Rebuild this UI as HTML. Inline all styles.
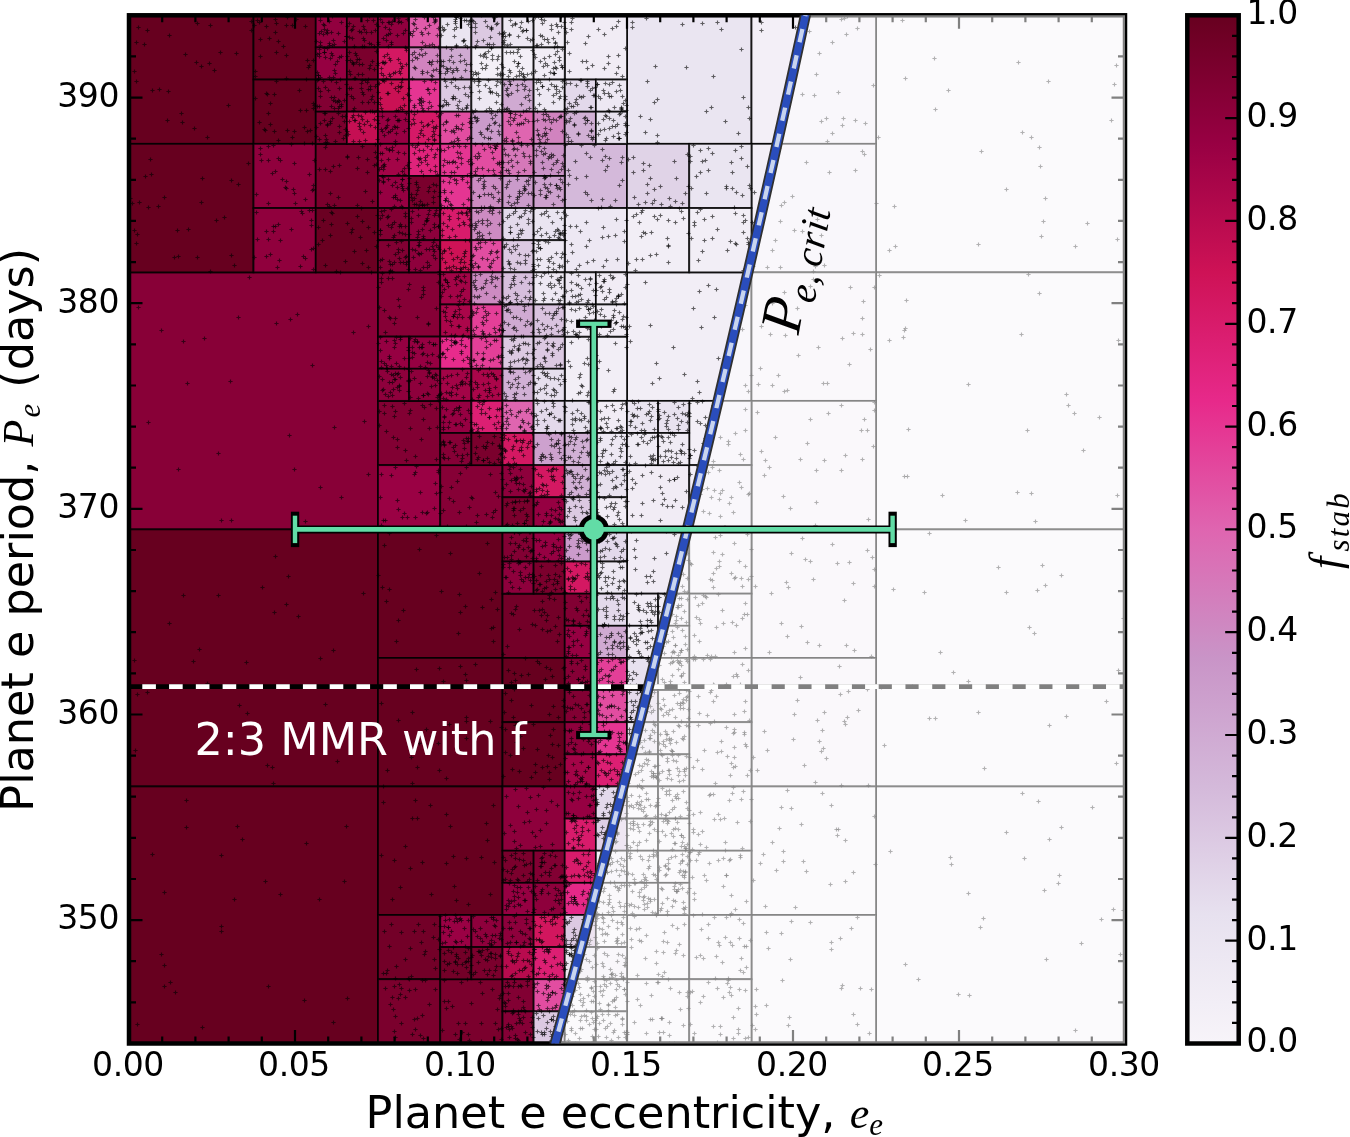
<!DOCTYPE html>
<html lang="en"><head><meta charset="utf-8"><title>Stability map</title>
<style>html,body{margin:0;padding:0;background:#fff}svg{display:block}text{font-family:"DejaVu Sans","Liberation Sans",sans-serif;fill:#000}.m{font-family:"Liberation Serif","DejaVu Serif",serif;font-style:italic}</style></head><body>
<svg width="1350" height="1137" viewBox="0 0 1350 1137">
<defs>
<clipPath id="ax"><rect x="129.0" y="15.3" width="996.0" height="1028.2"/></clipPath>
<marker id="pl" markerUnits="userSpaceOnUse" markerWidth="8" markerHeight="8" refX="3.5" refY="3.5" overflow="visible"><path d="M1.9 4H6.1M4 1.9V6.1" stroke="#000" stroke-width="1.15" stroke-opacity="0.6" fill="none"/></marker>
<linearGradient id="cb" x1="0" y1="0" x2="0" y2="1"><stop offset="0.0000" stop-color="#67001f"/><stop offset="0.1250" stop-color="#980043"/><stop offset="0.2500" stop-color="#ce1256"/><stop offset="0.3750" stop-color="#e7298a"/><stop offset="0.5000" stop-color="#df65b0"/><stop offset="0.6250" stop-color="#c994c7"/><stop offset="0.7500" stop-color="#d4b9da"/><stop offset="0.8750" stop-color="#e7e1ef"/><stop offset="1.0000" stop-color="#f7f4f9"/></linearGradient>
</defs>
<rect width="1350" height="1137" fill="#fff"/>
<g clip-path="url(#ax)">
<g stroke="#000" stroke-width="1.8" stroke-opacity="0.84">
<rect x="876.00" y="15.30" width="249.00" height="257.05" fill="#f7f4f9"/>
<rect x="129.00" y="272.35" width="249.00" height="257.05" fill="#880037"/>
<rect x="876.00" y="272.35" width="249.00" height="257.05" fill="#f7f4f9"/>
<rect x="129.00" y="529.40" width="249.00" height="257.05" fill="#67001f"/>
<rect x="876.00" y="529.40" width="249.00" height="257.05" fill="#f7f4f9"/>
<rect x="129.00" y="786.45" width="249.00" height="257.05" fill="#67001f"/>
<rect x="876.00" y="786.45" width="249.00" height="257.05" fill="#f7f4f9"/>
<rect x="129.00" y="15.30" width="124.50" height="128.53" fill="#67001f"/>
<rect x="129.00" y="143.83" width="124.50" height="128.53" fill="#67001f"/>
<rect x="627.00" y="15.30" width="124.50" height="128.53" fill="#eae5f1"/>
<rect x="751.50" y="15.30" width="124.50" height="128.53" fill="#f3eff7"/>
<rect x="751.50" y="143.83" width="124.50" height="128.53" fill="#f3eff7"/>
<rect x="627.00" y="272.35" width="124.50" height="128.53" fill="#f2eef6"/>
<rect x="751.50" y="272.35" width="124.50" height="128.53" fill="#f4f1f7"/>
<rect x="751.50" y="400.88" width="124.50" height="128.53" fill="#f4f1f7"/>
<rect x="378.00" y="529.40" width="124.50" height="128.53" fill="#67001f"/>
<rect x="378.00" y="657.92" width="124.50" height="128.53" fill="#67001f"/>
<rect x="751.50" y="529.40" width="124.50" height="128.53" fill="#f4f1f7"/>
<rect x="751.50" y="657.92" width="124.50" height="128.53" fill="#f4f1f7"/>
<rect x="378.00" y="786.45" width="124.50" height="128.53" fill="#67001f"/>
<rect x="751.50" y="786.45" width="124.50" height="128.53" fill="#f7f4f9"/>
<rect x="751.50" y="914.98" width="124.50" height="128.53" fill="#f7f4f9"/>
<rect x="253.50" y="15.30" width="62.25" height="64.26" fill="#67001f"/>
<rect x="253.50" y="79.56" width="62.25" height="64.26" fill="#67001f"/>
<rect x="253.50" y="143.83" width="62.25" height="64.26" fill="#90003d"/>
<rect x="315.75" y="143.83" width="62.25" height="64.26" fill="#7b002d"/>
<rect x="253.50" y="208.09" width="62.25" height="64.26" fill="#90003d"/>
<rect x="315.75" y="208.09" width="62.25" height="64.26" fill="#6b0022"/>
<rect x="564.75" y="15.30" width="62.25" height="64.26" fill="#f1ecf5"/>
<rect x="564.75" y="143.83" width="62.25" height="64.26" fill="#d4b9da"/>
<rect x="564.75" y="208.09" width="62.25" height="64.26" fill="#ede8f3"/>
<rect x="627.00" y="143.83" width="62.25" height="64.26" fill="#e0d3e7"/>
<rect x="689.25" y="143.83" width="62.25" height="64.26" fill="#eae5f1"/>
<rect x="627.00" y="208.09" width="62.25" height="64.26" fill="#f2eef6"/>
<rect x="689.25" y="208.09" width="62.25" height="64.26" fill="#f2eef6"/>
<rect x="378.00" y="272.35" width="62.25" height="64.26" fill="#860036"/>
<rect x="564.75" y="336.61" width="62.25" height="64.26" fill="#f2eef6"/>
<rect x="378.00" y="400.88" width="62.25" height="64.26" fill="#820033"/>
<rect x="378.00" y="465.14" width="62.25" height="64.26" fill="#9a0144"/>
<rect x="440.25" y="465.14" width="62.25" height="64.26" fill="#860036"/>
<rect x="689.25" y="400.88" width="62.25" height="64.26" fill="#f3eff7"/>
<rect x="627.00" y="465.14" width="62.25" height="64.26" fill="#f1ecf5"/>
<rect x="689.25" y="465.14" width="62.25" height="64.26" fill="#f3eff7"/>
<rect x="502.50" y="593.66" width="62.25" height="64.26" fill="#730028"/>
<rect x="502.50" y="657.92" width="62.25" height="64.26" fill="#67001f"/>
<rect x="502.50" y="722.19" width="62.25" height="64.26" fill="#67001f"/>
<rect x="627.00" y="529.40" width="62.25" height="64.26" fill="#f1ecf5"/>
<rect x="689.25" y="529.40" width="62.25" height="64.26" fill="#f4f1f7"/>
<rect x="689.25" y="593.66" width="62.25" height="64.26" fill="#f4f1f7"/>
<rect x="689.25" y="657.92" width="62.25" height="64.26" fill="#f4f1f7"/>
<rect x="689.25" y="722.19" width="62.25" height="64.26" fill="#f4f1f7"/>
<rect x="502.50" y="786.45" width="62.25" height="64.26" fill="#8e003c"/>
<rect x="378.00" y="914.98" width="62.25" height="64.26" fill="#730028"/>
<rect x="378.00" y="979.24" width="62.25" height="64.26" fill="#7b002d"/>
<rect x="440.25" y="979.24" width="62.25" height="64.26" fill="#7b002d"/>
<rect x="689.25" y="786.45" width="62.25" height="64.26" fill="#f7f4f9"/>
<rect x="689.25" y="850.71" width="62.25" height="64.26" fill="#f7f4f9"/>
<rect x="627.00" y="914.98" width="62.25" height="64.26" fill="#f7f4f9"/>
<rect x="689.25" y="914.98" width="62.25" height="64.26" fill="#f7f4f9"/>
<rect x="627.00" y="979.24" width="62.25" height="64.26" fill="#f7f4f9"/>
<rect x="689.25" y="979.24" width="62.25" height="64.26" fill="#f7f4f9"/>
<rect x="315.75" y="15.30" width="31.12" height="32.13" fill="#92003f"/>
<rect x="346.88" y="15.30" width="31.12" height="32.13" fill="#820033"/>
<rect x="315.75" y="47.43" width="31.12" height="32.13" fill="#960042"/>
<rect x="346.88" y="47.43" width="31.12" height="32.13" fill="#7b002d"/>
<rect x="315.75" y="79.56" width="31.12" height="32.13" fill="#820033"/>
<rect x="346.88" y="79.56" width="31.12" height="32.13" fill="#7f0030"/>
<rect x="315.75" y="111.69" width="31.12" height="32.13" fill="#7b002d"/>
<rect x="346.88" y="111.69" width="31.12" height="32.13" fill="#c50f53"/>
<rect x="378.00" y="15.30" width="31.12" height="32.13" fill="#92003f"/>
<rect x="409.12" y="15.30" width="31.12" height="32.13" fill="#e05baa"/>
<rect x="440.25" y="15.30" width="31.12" height="32.13" fill="#eae5f1"/>
<rect x="471.38" y="15.30" width="31.12" height="32.13" fill="#dcc9e2"/>
<rect x="502.50" y="15.30" width="31.12" height="32.13" fill="#ede8f3"/>
<rect x="533.62" y="15.30" width="31.12" height="32.13" fill="#f1ecf5"/>
<rect x="378.00" y="47.43" width="31.12" height="32.13" fill="#d41862"/>
<rect x="409.12" y="47.43" width="31.12" height="32.13" fill="#d183bf"/>
<rect x="440.25" y="47.43" width="31.12" height="32.13" fill="#d0aad2"/>
<rect x="471.38" y="47.43" width="31.12" height="32.13" fill="#f3eff7"/>
<rect x="502.50" y="47.43" width="31.12" height="32.13" fill="#f3eff7"/>
<rect x="533.62" y="47.43" width="31.12" height="32.13" fill="#f1ecf5"/>
<rect x="378.00" y="79.56" width="31.12" height="32.13" fill="#ca1154"/>
<rect x="409.12" y="79.56" width="31.12" height="32.13" fill="#e53592"/>
<rect x="440.25" y="79.56" width="31.12" height="32.13" fill="#dcc9e2"/>
<rect x="471.38" y="79.56" width="31.12" height="32.13" fill="#ede8f3"/>
<rect x="502.50" y="79.56" width="31.12" height="32.13" fill="#d0aad2"/>
<rect x="533.62" y="79.56" width="31.12" height="32.13" fill="#ede8f3"/>
<rect x="564.75" y="79.56" width="31.12" height="32.13" fill="#e3d9eb"/>
<rect x="595.88" y="79.56" width="31.12" height="32.13" fill="#ede8f3"/>
<rect x="378.00" y="111.69" width="31.12" height="32.13" fill="#980043"/>
<rect x="409.12" y="111.69" width="31.12" height="32.13" fill="#d61967"/>
<rect x="440.25" y="111.69" width="31.12" height="32.13" fill="#e24da1"/>
<rect x="471.38" y="111.69" width="31.12" height="32.13" fill="#cb9bcb"/>
<rect x="502.50" y="111.69" width="31.12" height="32.13" fill="#df65b0"/>
<rect x="533.62" y="111.69" width="31.12" height="32.13" fill="#d183bf"/>
<rect x="564.75" y="111.69" width="31.12" height="32.13" fill="#d1b0d5"/>
<rect x="595.88" y="111.69" width="31.12" height="32.13" fill="#e8e2ef"/>
<rect x="378.00" y="143.83" width="31.12" height="32.13" fill="#a30447"/>
<rect x="409.12" y="143.83" width="31.12" height="32.13" fill="#e0237b"/>
<rect x="440.25" y="143.83" width="31.12" height="32.13" fill="#e53592"/>
<rect x="471.38" y="143.83" width="31.12" height="32.13" fill="#e24da1"/>
<rect x="502.50" y="143.83" width="31.12" height="32.13" fill="#d678b9"/>
<rect x="533.62" y="143.83" width="31.12" height="32.13" fill="#ca92c6"/>
<rect x="378.00" y="175.96" width="31.12" height="32.13" fill="#960042"/>
<rect x="409.12" y="175.96" width="31.12" height="32.13" fill="#7b002d"/>
<rect x="440.25" y="175.96" width="31.12" height="32.13" fill="#e53592"/>
<rect x="471.38" y="175.96" width="31.12" height="32.13" fill="#cd8bc2"/>
<rect x="502.50" y="175.96" width="31.12" height="32.13" fill="#cb9bcb"/>
<rect x="533.62" y="175.96" width="31.12" height="32.13" fill="#cda1ce"/>
<rect x="378.00" y="208.09" width="31.12" height="32.13" fill="#820033"/>
<rect x="409.12" y="208.09" width="31.12" height="32.13" fill="#8e003c"/>
<rect x="440.25" y="208.09" width="31.12" height="32.13" fill="#d81b6b"/>
<rect x="471.38" y="208.09" width="31.12" height="32.13" fill="#cd8bc2"/>
<rect x="502.50" y="208.09" width="31.12" height="32.13" fill="#e3d9eb"/>
<rect x="533.62" y="208.09" width="31.12" height="32.13" fill="#eae5f1"/>
<rect x="378.00" y="240.22" width="31.12" height="32.13" fill="#820033"/>
<rect x="409.12" y="240.22" width="31.12" height="32.13" fill="#8e003c"/>
<rect x="440.25" y="240.22" width="31.12" height="32.13" fill="#ce1256"/>
<rect x="471.38" y="240.22" width="31.12" height="32.13" fill="#e24da1"/>
<rect x="502.50" y="240.22" width="31.12" height="32.13" fill="#dcc9e2"/>
<rect x="533.62" y="240.22" width="31.12" height="32.13" fill="#ede8f3"/>
<rect x="440.25" y="272.35" width="31.12" height="32.13" fill="#a30447"/>
<rect x="471.38" y="272.35" width="31.12" height="32.13" fill="#cd8bc2"/>
<rect x="502.50" y="272.35" width="31.12" height="32.13" fill="#d7bfdd"/>
<rect x="533.62" y="272.35" width="31.12" height="32.13" fill="#ede8f3"/>
<rect x="564.75" y="272.35" width="31.12" height="32.13" fill="#ede8f3"/>
<rect x="595.88" y="272.35" width="31.12" height="32.13" fill="#f1ecf5"/>
<rect x="440.25" y="304.48" width="31.12" height="32.13" fill="#ab064a"/>
<rect x="471.38" y="304.48" width="31.12" height="32.13" fill="#e43f98"/>
<rect x="502.50" y="304.48" width="31.12" height="32.13" fill="#d0aad2"/>
<rect x="533.62" y="304.48" width="31.12" height="32.13" fill="#d9c3df"/>
<rect x="564.75" y="304.48" width="31.12" height="32.13" fill="#f1ecf5"/>
<rect x="595.88" y="304.48" width="31.12" height="32.13" fill="#f1ecf5"/>
<rect x="378.00" y="336.61" width="31.12" height="32.13" fill="#960042"/>
<rect x="409.12" y="336.61" width="31.12" height="32.13" fill="#960042"/>
<rect x="440.25" y="336.61" width="31.12" height="32.13" fill="#e72b8c"/>
<rect x="471.38" y="336.61" width="31.12" height="32.13" fill="#e43f98"/>
<rect x="502.50" y="336.61" width="31.12" height="32.13" fill="#dcc9e2"/>
<rect x="533.62" y="336.61" width="31.12" height="32.13" fill="#dcc9e2"/>
<rect x="378.00" y="368.74" width="31.12" height="32.13" fill="#8e003c"/>
<rect x="409.12" y="368.74" width="31.12" height="32.13" fill="#8e003c"/>
<rect x="440.25" y="368.74" width="31.12" height="32.13" fill="#a30447"/>
<rect x="471.38" y="368.74" width="31.12" height="32.13" fill="#ab064a"/>
<rect x="502.50" y="368.74" width="31.12" height="32.13" fill="#d1b0d5"/>
<rect x="533.62" y="368.74" width="31.12" height="32.13" fill="#e6dfee"/>
<rect x="440.25" y="400.88" width="31.12" height="32.13" fill="#960042"/>
<rect x="471.38" y="400.88" width="31.12" height="32.13" fill="#dc1f73"/>
<rect x="502.50" y="400.88" width="31.12" height="32.13" fill="#df65b0"/>
<rect x="533.62" y="400.88" width="31.12" height="32.13" fill="#e3d9eb"/>
<rect x="564.75" y="400.88" width="31.12" height="32.13" fill="#e8e2ef"/>
<rect x="595.88" y="400.88" width="31.12" height="32.13" fill="#f1ecf5"/>
<rect x="440.25" y="433.01" width="31.12" height="32.13" fill="#860036"/>
<rect x="471.38" y="433.01" width="31.12" height="32.13" fill="#7b002d"/>
<rect x="502.50" y="433.01" width="31.12" height="32.13" fill="#d41862"/>
<rect x="533.62" y="433.01" width="31.12" height="32.13" fill="#cda1ce"/>
<rect x="564.75" y="433.01" width="31.12" height="32.13" fill="#d1b0d5"/>
<rect x="595.88" y="433.01" width="31.12" height="32.13" fill="#ede8f3"/>
<rect x="502.50" y="465.14" width="31.12" height="32.13" fill="#8e003c"/>
<rect x="533.62" y="465.14" width="31.12" height="32.13" fill="#d41862"/>
<rect x="564.75" y="465.14" width="31.12" height="32.13" fill="#d1b0d5"/>
<rect x="595.88" y="465.14" width="31.12" height="32.13" fill="#e8e2ef"/>
<rect x="502.50" y="497.27" width="31.12" height="32.13" fill="#7b002d"/>
<rect x="533.62" y="497.27" width="31.12" height="32.13" fill="#960042"/>
<rect x="564.75" y="497.27" width="31.12" height="32.13" fill="#dcc9e2"/>
<rect x="595.88" y="497.27" width="31.12" height="32.13" fill="#f1ecf5"/>
<rect x="627.00" y="400.88" width="31.12" height="32.13" fill="#eae5f1"/>
<rect x="658.12" y="400.88" width="31.12" height="32.13" fill="#e8e2ef"/>
<rect x="627.00" y="433.01" width="31.12" height="32.13" fill="#efebf4"/>
<rect x="658.12" y="433.01" width="31.12" height="32.13" fill="#efebf4"/>
<rect x="502.50" y="529.40" width="31.12" height="32.13" fill="#820033"/>
<rect x="533.62" y="529.40" width="31.12" height="32.13" fill="#960042"/>
<rect x="564.75" y="529.40" width="31.12" height="32.13" fill="#cb9bcb"/>
<rect x="595.88" y="529.40" width="31.12" height="32.13" fill="#e3d9eb"/>
<rect x="502.50" y="561.53" width="31.12" height="32.13" fill="#8e003c"/>
<rect x="533.62" y="561.53" width="31.12" height="32.13" fill="#7b002d"/>
<rect x="564.75" y="561.53" width="31.12" height="32.13" fill="#d41862"/>
<rect x="595.88" y="561.53" width="31.12" height="32.13" fill="#ede8f3"/>
<rect x="564.75" y="593.66" width="31.12" height="32.13" fill="#820033"/>
<rect x="595.88" y="593.66" width="31.12" height="32.13" fill="#e3d9eb"/>
<rect x="564.75" y="625.79" width="31.12" height="32.13" fill="#960042"/>
<rect x="595.88" y="625.79" width="31.12" height="32.13" fill="#d0aad2"/>
<rect x="564.75" y="657.92" width="31.12" height="32.13" fill="#860036"/>
<rect x="595.88" y="657.92" width="31.12" height="32.13" fill="#e43f98"/>
<rect x="564.75" y="690.06" width="31.12" height="32.13" fill="#820033"/>
<rect x="595.88" y="690.06" width="31.12" height="32.13" fill="#e24da1"/>
<rect x="564.75" y="722.19" width="31.12" height="32.13" fill="#8e003c"/>
<rect x="595.88" y="722.19" width="31.12" height="32.13" fill="#e53592"/>
<rect x="564.75" y="754.32" width="31.12" height="32.13" fill="#a30447"/>
<rect x="595.88" y="754.32" width="31.12" height="32.13" fill="#dc1f73"/>
<rect x="627.00" y="593.66" width="31.12" height="32.13" fill="#f1ecf5"/>
<rect x="658.12" y="593.66" width="31.12" height="32.13" fill="#f3eff7"/>
<rect x="627.00" y="625.79" width="31.12" height="32.13" fill="#f1ecf5"/>
<rect x="658.12" y="625.79" width="31.12" height="32.13" fill="#f3eff7"/>
<rect x="627.00" y="657.92" width="31.12" height="32.13" fill="#e8e2ef"/>
<rect x="658.12" y="657.92" width="31.12" height="32.13" fill="#f4f1f7"/>
<rect x="627.00" y="690.06" width="31.12" height="32.13" fill="#e3d9eb"/>
<rect x="658.12" y="690.06" width="31.12" height="32.13" fill="#f4f1f7"/>
<rect x="627.00" y="722.19" width="31.12" height="32.13" fill="#eae5f1"/>
<rect x="658.12" y="722.19" width="31.12" height="32.13" fill="#f4f1f7"/>
<rect x="627.00" y="754.32" width="31.12" height="32.13" fill="#f4f1f7"/>
<rect x="658.12" y="754.32" width="31.12" height="32.13" fill="#f4f1f7"/>
<rect x="564.75" y="786.45" width="31.12" height="32.13" fill="#960042"/>
<rect x="595.88" y="786.45" width="31.12" height="32.13" fill="#e3d9eb"/>
<rect x="564.75" y="818.58" width="31.12" height="32.13" fill="#d81b6b"/>
<rect x="595.88" y="818.58" width="31.12" height="32.13" fill="#dfcfe6"/>
<rect x="502.50" y="850.71" width="31.12" height="32.13" fill="#7b002d"/>
<rect x="533.62" y="850.71" width="31.12" height="32.13" fill="#820033"/>
<rect x="564.75" y="850.71" width="31.12" height="32.13" fill="#d81b6b"/>
<rect x="595.88" y="850.71" width="31.12" height="32.13" fill="#f3eff7"/>
<rect x="502.50" y="882.84" width="31.12" height="32.13" fill="#960042"/>
<rect x="533.62" y="882.84" width="31.12" height="32.13" fill="#8e003c"/>
<rect x="564.75" y="882.84" width="31.12" height="32.13" fill="#e62888"/>
<rect x="595.88" y="882.84" width="31.12" height="32.13" fill="#f4f1f7"/>
<rect x="440.25" y="914.98" width="31.12" height="32.13" fill="#9a0144"/>
<rect x="471.38" y="914.98" width="31.12" height="32.13" fill="#8e003c"/>
<rect x="502.50" y="914.98" width="31.12" height="32.13" fill="#8e003c"/>
<rect x="533.62" y="914.98" width="31.12" height="32.13" fill="#d2165e"/>
<rect x="564.75" y="914.98" width="31.12" height="32.13" fill="#dcc9e2"/>
<rect x="595.88" y="914.98" width="31.12" height="32.13" fill="#f7f4f9"/>
<rect x="440.25" y="947.11" width="31.12" height="32.13" fill="#730028"/>
<rect x="471.38" y="947.11" width="31.12" height="32.13" fill="#7b002d"/>
<rect x="502.50" y="947.11" width="31.12" height="32.13" fill="#b80b4e"/>
<rect x="533.62" y="947.11" width="31.12" height="32.13" fill="#dc1f73"/>
<rect x="564.75" y="947.11" width="31.12" height="32.13" fill="#ede8f3"/>
<rect x="595.88" y="947.11" width="31.12" height="32.13" fill="#f2eef6"/>
<rect x="502.50" y="979.24" width="31.12" height="32.13" fill="#820033"/>
<rect x="533.62" y="979.24" width="31.12" height="32.13" fill="#e24da1"/>
<rect x="564.75" y="979.24" width="31.12" height="32.13" fill="#f7f4f9"/>
<rect x="595.88" y="979.24" width="31.12" height="32.13" fill="#f7f4f9"/>
<rect x="502.50" y="1011.37" width="31.12" height="32.13" fill="#860036"/>
<rect x="533.62" y="1011.37" width="31.12" height="32.13" fill="#dcc9e2"/>
<rect x="564.75" y="1011.37" width="31.12" height="32.13" fill="#f7f4f9"/>
<rect x="595.88" y="1011.37" width="31.12" height="32.13" fill="#f7f4f9"/>
<rect x="627.00" y="786.45" width="31.12" height="32.13" fill="#f7f4f9"/>
<rect x="658.12" y="786.45" width="31.12" height="32.13" fill="#f7f4f9"/>
<rect x="627.00" y="818.58" width="31.12" height="32.13" fill="#f7f4f9"/>
<rect x="658.12" y="818.58" width="31.12" height="32.13" fill="#f7f4f9"/>
<rect x="627.00" y="850.71" width="31.12" height="32.13" fill="#f7f4f9"/>
<rect x="658.12" y="850.71" width="31.12" height="32.13" fill="#f7f4f9"/>
<rect x="627.00" y="882.84" width="31.12" height="32.13" fill="#f7f4f9"/>
<rect x="658.12" y="882.84" width="31.12" height="32.13" fill="#f7f4f9"/>
</g>
<polyline fill="none" stroke="none" marker-start="url(#pl)" marker-mid="url(#pl)" marker-end="url(#pl)" points="169,35 210,25 196,62 136,81 134,71 138,27 182,122 144,44 207,137 201,66 251,21 236,53 147,30 167,120 152,90 209,63 197,23 136,42 214,70 168,91 185,54 228,105 159,89 194,128 220,52 251,30 181,113 148,207 134,230 224,217 238,184 216,220 201,202 234,265 188,229 137,234 210,271 231,180 177,230 132,203 150,159 136,243 145,176 178,256 139,202 197,257 231,255 164,197 174,257 248,163 151,174 158,206 202,178 130,198 276,52 313,60 286,55 296,19 309,65 308,67 278,41 260,56 257,20 266,26 275,19 254,25 260,39 255,71 292,25 269,38 276,23 306,79 283,46 259,22 275,32 305,26 255,76 286,25 287,17 286,78 307,60 270,103 264,129 287,130 274,94 304,143 307,131 304,127 268,113 276,81 255,98 270,124 313,108 312,143 313,103 267,94 266,93 292,137 306,110 294,131 259,122 310,130 300,110 265,130 274,131 314,105 278,140 299,90 320,20 344,41 320,42 346,36 327,33 320,16 346,36 332,45 329,43 341,22 324,25 323,34 324,29 320,45 327,30 334,44 329,45 331,32 332,16 329,21 316,41 321,31 338,33 326,32 333,40 319,33 323,24 371,32 364,40 375,30 366,32 363,38 361,32 362,46 369,43 376,24 364,46 373,20 351,30 349,23 349,37 371,44 352,38 367,20 374,46 354,46 359,31 378,42 352,29 363,26 353,26 369,16 364,29 347,26 335,64 318,79 340,79 319,56 317,72 324,52 329,77 341,56 320,77 334,70 319,49 337,61 318,78 335,73 318,75 318,75 330,58 333,77 324,52 332,55 319,53 317,54 325,57 339,57 331,53 327,48 324,48 370,65 353,63 376,51 372,61 362,74 359,64 368,79 358,74 369,68 359,59 349,52 349,71 355,53 350,74 374,69 356,55 356,62 352,62 355,78 377,65 354,78 357,59 347,60 362,64 353,64 347,56 350,60 317,80 325,87 334,97 339,101 338,108 328,90 346,84 338,100 317,106 344,100 339,106 320,96 331,106 341,106 334,108 337,102 323,81 320,91 319,106 333,100 335,101 331,80 341,104 331,97 336,82 339,88 318,88 370,86 370,111 362,92 362,102 371,99 367,82 351,88 370,89 365,80 349,88 368,102 368,89 363,94 361,83 375,86 377,110 347,94 372,111 361,88 353,110 353,98 351,96 377,84 372,96 374,102 354,108 362,80 316,127 330,121 320,123 326,139 316,136 342,116 345,135 344,121 327,124 347,131 327,125 324,113 319,139 325,142 324,120 332,118 327,142 343,138 335,141 345,129 338,113 339,126 339,132 325,113 345,116 330,123 325,135 377,120 367,121 364,124 352,117 353,141 362,119 375,144 361,116 353,115 358,115 354,120 365,140 370,125 360,129 359,123 349,121 377,116 363,132 374,119 355,120 359,126 377,139 374,112 348,134 375,127 365,112 359,141 305,199 314,160 260,154 286,188 312,190 294,193 282,179 256,194 268,203 294,163 261,160 293,189 260,148 286,181 278,158 291,144 272,173 313,185 309,174 268,160 313,189 273,145 285,187 280,160 295,203 268,146 275,171 358,157 365,191 347,157 376,164 367,159 330,193 334,205 347,156 330,171 357,205 325,169 329,206 325,147 319,169 372,201 361,208 374,165 327,204 362,146 357,168 339,165 326,144 333,166 375,152 376,157 338,197 367,172 257,239 277,267 266,231 309,210 279,260 301,211 256,212 311,225 300,266 275,226 313,248 270,254 273,226 254,257 311,249 312,210 268,239 313,269 278,224 280,240 311,220 303,256 305,258 291,229 273,231 302,213 266,256 331,212 318,244 336,271 371,272 332,213 322,240 360,237 330,235 354,251 362,263 357,216 368,227 351,232 362,221 331,224 325,265 352,229 340,272 347,223 366,250 377,215 345,261 368,267 318,227 323,220 376,246 374,232 405,30 386,40 407,19 397,35 385,27 382,22 386,35 398,22 378,26 399,21 388,22 403,33 380,19 390,33 398,18 383,38 391,24 388,46 388,34 389,29 405,47 389,22 401,22 378,44 391,42 391,44 392,21 410,33 429,45 412,35 421,32 414,24 425,45 413,31 434,46 415,19 438,47 424,17 438,28 437,35 435,20 434,22 422,42 435,21 416,28 425,28 413,23 432,44 410,33 433,17 435,19 428,33 429,25 422,34 454,36 454,29 441,35 455,23 464,40 455,21 455,19 444,29 443,30 456,17 460,18 463,40 456,17 456,27 470,20 467,47 463,41 446,47 456,46 469,21 465,45 442,27 464,20 468,24 466,20 456,45 447,24 487,26 473,21 476,45 493,44 477,41 475,32 491,27 499,33 489,44 475,47 491,28 496,24 502,34 483,40 485,21 495,17 497,23 491,47 490,37 481,15 472,20 491,29 487,44 475,23 492,16 471,27 475,27 509,34 521,22 522,31 507,45 510,20 505,36 530,40 515,24 503,36 520,27 523,30 532,39 510,44 504,32 515,23 504,40 503,33 532,20 509,35 518,36 528,21 512,25 504,44 527,38 503,42 526,30 526,30 541,19 541,17 544,39 555,42 556,24 551,29 558,32 542,36 564,22 561,16 542,23 557,46 557,26 561,26 541,44 553,38 554,47 548,42 555,43 547,39 551,25 540,35 536,45 538,16 537,45 544,20 535,17 608,56 608,63 569,53 587,68 616,73 569,71 622,76 571,29 572,18 618,67 604,68 604,34 571,22 612,28 585,43 566,32 582,61 588,36 625,48 618,55 567,42 592,65 586,61 598,29 618,21 616,26 565,28 402,79 378,63 393,73 384,63 389,74 386,78 387,54 400,63 381,68 381,73 400,73 398,59 390,60 406,50 406,48 384,56 406,64 390,76 385,62 395,72 401,68 389,58 383,75 399,71 383,62 402,66 382,62 437,55 415,57 431,75 414,52 417,58 425,53 419,54 439,71 412,78 412,60 440,73 432,61 415,68 412,54 421,49 422,73 431,64 429,62 414,67 422,71 437,61 427,72 422,55 432,76 433,70 436,69 429,62 450,68 443,61 465,70 460,55 453,62 460,61 461,77 446,68 464,60 455,79 441,65 445,73 470,64 443,66 457,70 456,68 466,64 453,78 447,69 452,72 444,79 451,49 449,60 441,61 453,70 451,56 447,71 501,64 478,73 484,54 475,72 497,68 486,65 478,78 482,68 497,74 486,57 488,51 497,59 498,56 483,56 485,53 471,71 480,55 481,63 485,68 492,59 500,75 473,74 500,73 476,74 491,48 472,78 492,55 506,52 510,72 513,52 531,73 508,76 521,73 523,76 527,74 509,70 519,71 516,76 520,56 510,52 518,49 517,52 518,63 519,75 503,74 517,66 523,74 514,61 532,50 522,68 503,67 524,77 513,79 518,63 562,49 556,68 544,75 545,63 550,72 540,61 547,65 559,57 559,60 549,56 549,79 554,73 544,58 543,66 553,73 535,71 561,65 535,57 534,54 562,67 554,73 562,67 553,68 555,67 555,54 554,62 557,51 384,81 402,109 398,91 404,105 395,88 387,93 388,93 398,110 380,98 379,83 403,98 407,94 378,92 396,110 409,95 391,83 398,86 383,80 378,102 382,111 381,108 382,80 400,87 401,86 380,104 400,107 401,82 429,102 423,110 417,111 431,80 410,100 435,82 419,103 414,107 424,81 421,98 423,101 414,105 420,100 429,93 421,105 439,105 427,89 411,111 431,106 419,99 440,106 428,89 422,108 421,102 428,108 434,89 409,88 453,98 466,108 442,106 466,107 458,88 467,105 462,109 451,82 457,105 446,104 469,87 459,101 455,86 448,104 465,94 443,105 464,87 458,108 468,96 455,98 446,86 446,102 452,98 453,96 445,81 471,92 444,100 496,85 490,91 488,80 472,111 498,95 489,88 496,93 501,104 497,111 479,81 478,85 474,81 489,108 486,110 500,82 490,92 475,110 479,98 491,110 492,92 485,85 501,111 478,81 479,91 499,109 497,81 496,102 523,111 504,84 526,110 524,89 521,104 506,90 510,84 517,85 510,84 524,80 525,86 504,109 509,110 529,108 507,94 506,109 529,100 517,90 528,95 522,84 509,81 525,97 507,108 511,93 507,88 529,90 508,95 544,109 537,111 535,108 554,86 548,89 542,86 545,111 565,109 537,89 562,81 556,89 564,80 559,91 538,80 560,96 539,94 562,87 551,84 539,104 556,86 536,82 553,95 542,86 553,102 559,98 540,82 556,93 587,81 590,90 591,107 580,80 593,95 592,88 571,106 576,85 576,99 565,96 579,96 569,103 590,107 575,102 577,104 567,108 594,95 581,97 581,80 595,87 570,83 573,106 566,83 587,86 565,99 583,96 587,83 623,103 597,84 611,96 605,83 609,84 614,107 600,98 619,85 622,110 608,93 622,96 608,110 620,90 603,90 609,111 621,109 621,107 598,96 626,110 604,93 616,91 612,82 609,96 597,84 626,105 625,100 621,108 406,113 398,120 399,120 395,141 397,120 394,126 408,121 388,132 382,131 408,128 386,127 395,116 382,116 387,125 387,120 381,129 404,131 396,133 384,135 392,129 397,127 388,119 385,128 390,131 378,123 405,119 395,127 418,143 418,137 414,114 436,126 411,124 423,135 413,119 439,135 414,123 420,133 428,139 435,128 432,136 433,127 434,134 438,116 436,112 433,131 425,143 427,125 434,140 428,124 423,126 432,121 421,130 421,122 434,139 456,126 446,121 445,130 458,115 469,122 467,139 470,118 454,141 441,113 458,128 469,137 457,144 456,128 462,124 451,131 451,142 461,129 443,124 453,130 458,140 470,127 454,132 471,123 457,138 446,122 471,138 456,115 499,134 497,144 499,125 476,121 487,128 477,118 491,131 482,144 491,113 484,137 481,134 471,121 498,131 492,118 487,129 480,132 488,144 489,125 475,117 495,115 474,117 488,138 490,138 473,112 495,122 494,123 477,120 506,141 521,123 517,124 504,140 521,143 516,132 510,113 531,139 512,141 528,121 521,143 518,142 510,124 525,119 512,140 518,137 510,117 514,118 533,121 520,115 519,124 515,114 506,138 513,120 508,121 510,113 523,123 538,134 537,120 560,116 547,139 559,117 545,135 545,142 540,142 549,119 548,116 556,120 562,131 545,120 553,119 561,116 550,129 542,136 546,133 551,122 546,114 539,139 544,133 537,130 545,128 543,114 543,119 538,135 574,125 593,137 592,139 569,121 566,134 585,123 578,133 587,120 591,123 584,118 568,141 588,135 566,113 570,118 574,124 566,122 585,117 591,130 587,120 578,134 576,112 591,137 574,113 591,131 566,120 568,137 571,141 619,114 617,124 619,138 605,115 625,125 625,134 619,138 615,126 598,134 609,128 625,116 620,113 618,138 604,129 626,132 613,120 598,123 609,118 606,116 618,133 603,119 612,126 625,123 605,140 600,130 606,138 613,136 383,165 397,159 402,171 382,153 389,150 380,153 384,166 392,147 388,159 389,149 380,144 409,168 381,167 409,162 381,160 392,150 395,144 407,165 398,174 398,152 386,148 379,169 404,153 384,164 404,174 383,169 404,168 419,150 435,154 421,162 421,171 417,145 427,164 435,166 437,174 425,160 414,153 427,146 431,149 423,175 412,145 423,150 432,144 435,171 434,157 418,165 425,157 420,158 430,170 437,149 418,158 427,155 415,147 419,159 470,173 467,175 470,164 465,146 461,163 449,162 470,159 460,153 451,172 441,150 461,158 443,165 452,162 453,161 458,157 444,150 468,161 444,172 448,147 457,152 455,162 447,162 444,160 459,146 453,146 454,172 457,167 495,148 502,167 475,171 484,149 501,162 495,148 496,146 479,156 472,163 478,153 493,158 499,164 499,162 500,172 477,168 482,168 493,170 475,156 494,174 494,145 490,147 488,170 475,174 492,152 477,158 497,163 475,144 506,170 508,162 512,166 514,148 530,161 524,170 532,144 513,149 518,172 527,145 508,170 524,156 517,149 529,156 530,163 505,154 509,173 521,145 508,155 517,162 515,155 503,162 513,144 517,176 504,149 523,153 511,160 542,162 550,175 565,145 551,169 561,169 553,164 545,153 558,172 563,166 543,168 557,160 553,155 551,157 536,155 544,176 549,156 541,151 544,148 534,172 548,158 551,154 539,146 543,154 556,162 563,155 562,163 536,150 601,207 587,194 591,200 569,175 621,162 581,145 575,161 609,158 590,157 602,199 605,156 610,206 602,149 615,200 586,153 576,178 619,185 622,157 585,192 605,170 607,166 568,170 568,184 586,176 602,160 594,145 622,180 409,178 397,199 388,179 383,181 402,179 403,190 395,195 395,197 397,187 401,184 400,200 402,186 402,207 392,185 394,206 382,176 393,197 402,188 409,183 402,179 379,180 380,192 395,182 407,188 383,182 401,206 383,177 433,184 440,192 429,187 434,191 419,205 412,200 411,197 422,204 411,194 422,205 439,196 416,184 417,190 416,182 433,197 418,208 416,194 414,204 436,185 433,202 418,187 424,205 414,198 428,191 427,204 416,204 420,201 467,182 467,208 450,177 444,207 441,205 445,200 443,181 462,179 451,205 463,204 471,177 448,201 462,177 456,183 454,179 441,208 450,204 444,192 444,190 446,198 445,200 456,180 451,192 469,187 447,207 468,199 449,182 480,178 473,192 484,194 483,176 493,197 488,194 493,208 499,199 484,186 484,207 483,188 484,181 502,176 490,206 479,196 483,184 478,180 498,201 500,178 493,186 491,194 481,207 471,200 498,192 490,208 479,196 495,188 525,189 519,196 524,186 522,193 509,196 511,205 517,199 519,191 509,181 531,193 519,193 528,184 508,202 517,197 528,205 530,177 514,203 528,180 507,184 506,187 528,193 517,179 515,208 524,190 517,202 526,181 524,188 550,184 545,187 545,177 540,194 535,182 556,185 544,184 560,179 553,204 540,190 558,196 545,177 547,188 556,185 546,197 559,187 546,195 562,182 564,199 545,197 544,178 557,188 550,192 562,200 534,195 548,191 560,189 393,237 392,224 394,235 399,232 391,209 399,226 402,233 382,215 380,234 381,211 401,226 380,230 400,224 380,230 391,227 409,234 405,213 388,225 378,240 387,217 388,216 405,226 394,222 380,218 405,234 405,216 384,210 426,220 424,224 427,220 434,215 438,226 411,218 426,221 427,218 418,234 418,231 434,227 423,238 423,236 411,222 429,210 436,210 428,214 438,226 434,224 430,230 418,215 435,213 438,215 412,211 434,239 422,229 417,237 462,213 442,230 442,235 449,216 458,218 458,213 469,219 466,213 465,240 452,209 452,229 447,226 443,223 463,222 461,212 466,212 469,240 469,225 449,219 464,224 469,211 455,236 459,225 443,213 449,237 467,215 469,209 490,239 482,238 492,210 482,223 479,232 477,233 481,210 489,211 489,233 490,223 472,225 474,229 475,227 482,220 492,213 477,238 482,235 499,224 476,211 499,212 487,225 475,223 476,225 487,220 478,221 478,212 479,236 518,237 503,238 518,234 520,230 510,232 507,217 503,221 519,217 530,211 521,216 521,233 525,210 510,227 533,209 522,230 528,219 528,223 531,208 532,221 515,211 510,232 524,213 513,213 509,215 513,239 534,234 517,224 558,237 557,229 540,228 560,233 537,231 544,213 564,230 557,212 559,238 562,232 560,234 552,222 559,233 561,218 564,225 563,212 564,233 541,235 541,214 548,216 549,237 555,231 546,233 558,230 563,235 546,211 554,235 586,246 617,259 565,240 566,215 615,235 602,237 586,222 587,262 603,227 570,226 608,236 606,260 572,252 567,261 576,226 624,231 579,265 603,266 589,240 624,241 626,220 616,219 598,208 576,269 593,260 580,231 571,244 405,257 390,270 406,262 380,260 392,271 389,261 398,252 394,262 406,256 389,272 380,267 399,258 392,264 406,264 401,241 388,245 408,269 382,259 396,242 390,264 398,249 402,250 395,254 408,261 403,262 390,271 400,262 418,245 427,267 434,251 413,257 436,245 432,246 419,242 418,253 439,271 415,250 438,247 419,254 412,249 421,253 439,249 415,269 423,267 429,265 419,245 433,255 427,262 433,249 420,270 426,249 429,249 433,242 435,258 451,270 449,248 442,258 464,262 453,266 444,250 460,271 460,262 464,253 470,264 451,253 465,251 446,268 457,257 461,269 444,251 442,253 456,268 461,259 453,259 449,267 465,267 445,262 464,256 468,269 463,267 460,268 475,263 493,260 480,242 490,267 480,247 478,243 492,272 496,252 493,243 497,251 471,260 476,249 473,255 489,266 473,267 475,247 491,251 482,258 478,266 478,267 497,257 472,265 472,256 485,242 491,263 490,253 487,259 510,268 533,266 532,251 533,243 517,245 517,262 525,255 513,246 515,249 509,264 519,254 509,263 509,249 520,263 533,264 532,270 525,263 504,247 503,268 525,260 511,252 508,261 533,250 504,246 514,269 528,255 506,244 538,265 548,272 562,266 548,267 538,244 551,257 540,248 534,269 556,271 564,254 556,253 559,267 538,241 540,259 545,241 559,265 548,242 561,257 536,251 553,269 549,261 540,248 562,253 537,259 538,247 548,259 553,263 682,24 717,22 686,67 711,107 657,99 713,76 645,132 702,23 657,142 655,66 725,121 706,111 632,27 749,118 632,22 657,135 654,102 743,97 741,49 646,18 721,29 748,107 650,119 647,81 640,116 738,133 627,125 821,121 814,95 826,118 761,22 819,53 801,16 844,18 855,120 809,31 832,42 805,29 873,85 795,27 842,125 857,28 797,54 846,34 827,141 847,16 761,30 838,92 816,74 802,94 832,133 843,118 865,123 841,19 669,198 654,200 638,204 654,189 643,163 649,165 633,172 688,186 685,193 679,208 674,161 643,170 628,159 682,203 647,193 675,201 676,178 634,197 647,184 650,178 687,154 660,186 661,204 652,203 670,206 633,157 645,202 690,161 734,207 700,172 732,188 736,192 705,160 691,188 702,161 749,185 726,186 726,188 708,148 693,145 712,153 696,176 750,188 706,193 700,150 708,170 732,172 735,150 747,166 741,146 741,158 742,195 731,162 690,156 683,218 668,246 668,220 636,214 688,233 668,245 641,212 628,263 635,270 650,255 636,259 643,232 660,215 642,259 645,233 675,222 639,222 651,232 667,238 681,211 668,262 642,210 654,216 656,254 633,216 657,219 641,236 697,212 712,238 748,244 694,222 736,244 743,270 743,215 748,242 704,219 743,222 694,225 747,238 735,213 717,229 702,251 712,216 751,239 700,209 730,241 691,238 735,243 704,240 727,250 698,260 748,256 743,232 745,220 780,221 864,154 779,148 806,162 775,240 824,265 802,231 753,266 781,205 815,266 813,271 829,172 855,170 876,203 780,267 792,196 794,230 754,192 772,250 752,222 784,202 821,235 769,175 767,267 770,161 817,219 862,151 934,58 1022,132 978,244 1041,236 1114,84 1111,120 889,250 902,20 948,90 1117,239 981,151 1087,223 1039,147 905,78 1040,166 1075,246 1116,65 895,246 1018,62 1048,81 935,109 1006,189 894,206 1031,137 1043,221 878,137 1045,198 290,319 368,474 187,383 368,326 231,520 353,332 312,365 294,469 161,330 183,341 138,307 230,381 148,422 364,421 218,453 238,317 249,277 297,314 221,520 320,487 289,435 305,521 178,469 204,338 334,427 341,497 276,323 379,307 423,290 382,273 389,317 378,287 395,318 439,274 385,332 438,282 399,306 398,299 408,289 381,278 388,278 417,317 394,323 423,294 409,284 436,308 381,282 421,297 423,287 428,324 384,310 390,318 428,323 392,278 461,291 445,279 458,276 460,280 448,286 457,296 441,296 447,282 460,295 459,301 447,282 461,281 445,280 464,299 463,303 465,282 450,296 442,292 443,274 456,277 469,301 455,279 444,289 456,284 463,289 464,276 442,285 486,280 492,279 481,288 494,297 483,287 500,302 491,276 486,293 480,274 502,302 475,287 491,282 474,296 495,286 474,285 474,303 473,282 495,277 475,275 476,289 497,278 477,297 485,283 475,280 502,276 479,296 499,301 517,303 521,282 517,295 525,277 509,303 506,298 513,280 510,287 533,277 529,283 508,296 513,278 516,299 529,291 503,297 521,301 532,283 529,299 511,284 514,284 514,276 510,302 515,293 530,297 510,302 528,304 525,297 559,280 554,285 560,277 550,283 559,283 560,300 561,277 563,296 555,293 535,300 551,287 544,298 558,300 540,283 541,276 544,273 558,280 536,275 557,279 548,285 559,303 543,293 561,287 562,296 543,300 551,276 552,299 581,288 578,301 585,279 576,284 595,295 569,302 566,291 578,295 578,275 581,299 589,284 572,296 590,279 592,304 578,285 587,302 571,282 575,296 571,290 580,294 569,303 596,290 590,278 593,290 588,300 576,302 571,273 612,301 624,303 612,302 613,277 616,298 609,292 604,281 609,289 610,275 596,283 618,296 603,281 612,278 615,301 602,291 618,296 618,295 604,299 625,274 625,287 599,275 621,294 600,287 616,304 606,297 604,279 601,286 459,314 445,312 443,311 450,321 446,320 454,336 455,335 455,311 459,309 446,307 462,336 453,316 453,316 462,317 445,332 458,305 467,328 451,325 469,317 454,314 458,326 463,335 445,316 467,330 459,326 451,335 457,317 477,308 499,330 472,315 486,320 483,333 482,322 500,325 486,315 483,324 496,313 483,317 483,334 488,313 482,331 476,327 472,311 473,330 476,312 473,313 494,328 500,335 489,334 474,334 485,311 495,332 483,307 499,329 521,336 504,306 506,305 525,325 506,310 508,324 523,336 514,336 516,317 510,312 533,336 524,310 508,309 513,328 504,322 524,306 516,330 520,319 530,324 513,317 532,332 531,323 507,310 514,327 503,330 527,321 503,330 547,326 551,328 546,335 563,334 553,315 545,313 562,330 558,331 564,327 544,329 542,324 539,332 549,313 562,307 563,329 538,329 551,334 552,318 563,307 558,308 542,308 561,319 556,313 556,325 537,320 556,311 554,313 576,334 594,337 578,323 590,329 579,332 577,335 579,308 588,309 586,306 596,322 588,309 585,317 573,331 566,320 567,332 593,306 579,320 587,328 575,334 571,309 590,308 571,321 575,310 594,320 589,313 593,312 593,324 626,329 616,322 622,319 599,334 621,326 619,312 610,331 626,334 601,326 613,317 601,309 611,320 604,316 613,329 614,310 623,316 626,336 600,323 626,317 613,315 597,311 600,314 615,323 625,327 607,335 616,322 623,326 389,356 387,368 386,368 380,337 395,343 394,340 404,358 399,366 409,358 400,337 380,350 408,347 396,337 391,366 396,363 378,343 384,363 381,367 386,365 394,347 408,350 400,339 404,368 381,361 386,341 389,358 408,369 440,357 429,342 432,354 420,366 417,341 414,341 427,362 414,353 427,355 422,354 410,338 422,344 433,344 435,344 412,352 421,347 433,344 430,363 423,353 438,356 415,339 412,347 412,357 422,347 425,367 417,342 419,347 469,359 454,342 442,341 467,357 445,357 442,353 451,340 463,360 456,342 461,351 461,340 468,337 447,349 446,339 462,369 451,345 461,344 453,359 454,342 442,354 471,366 443,353 455,343 461,353 465,346 469,363 455,341 486,341 493,359 489,368 473,360 496,340 481,338 490,360 482,359 483,359 480,368 485,337 474,360 498,357 476,365 494,340 483,358 471,338 482,365 502,347 500,362 498,356 502,357 501,355 477,353 486,347 483,353 490,344 511,353 518,350 523,343 519,345 526,359 527,353 510,366 518,349 512,350 525,363 518,360 509,351 514,346 514,361 525,343 510,362 523,358 522,359 511,339 514,338 532,353 523,368 528,344 513,340 527,360 518,348 511,352 556,365 560,364 547,350 543,368 539,342 542,366 560,347 560,365 547,343 558,349 537,366 547,349 552,345 534,349 545,337 545,361 544,358 553,343 534,358 553,346 540,364 562,344 552,355 544,338 544,357 552,353 537,343 584,363 587,395 572,400 580,392 580,374 588,339 614,389 582,386 595,400 568,361 579,377 613,391 599,361 615,343 581,385 592,400 570,366 578,337 571,342 588,364 596,355 608,370 626,347 597,368 588,392 578,393 587,358 397,387 387,371 408,381 382,390 395,379 388,396 389,382 408,380 391,374 399,390 392,382 385,394 392,395 390,392 379,376 408,391 399,385 393,375 383,389 400,377 398,373 397,374 394,379 395,373 393,389 382,379 399,386 428,394 427,376 423,395 427,393 420,383 439,395 429,372 428,370 438,400 432,377 435,374 435,385 410,397 423,395 431,386 436,375 437,380 410,380 411,371 429,373 414,378 418,398 437,397 440,383 434,378 438,395 432,376 443,398 457,388 467,373 462,384 465,383 446,399 449,393 466,377 462,381 447,376 470,381 456,385 441,393 463,397 451,375 451,392 461,382 457,374 469,384 456,394 446,392 451,395 443,378 460,384 452,387 447,383 440,394 479,395 489,388 491,373 496,378 498,394 492,395 485,390 501,375 475,382 487,374 478,397 483,374 477,387 477,384 488,383 487,396 472,399 478,370 495,387 488,376 496,379 494,376 489,390 483,384 473,389 493,374 489,392 506,396 530,370 510,371 510,372 518,377 512,384 514,394 525,372 509,369 513,372 524,394 533,375 504,393 515,399 515,379 505,399 518,383 516,393 528,384 508,382 530,382 523,387 517,387 510,387 529,371 514,397 533,369 553,389 560,384 538,378 556,392 540,389 554,390 534,383 544,388 544,373 554,378 558,379 551,395 537,392 536,399 534,392 545,375 546,385 547,373 550,378 564,381 547,376 564,379 554,395 546,393 542,372 535,383 561,375 405,450 395,411 410,428 436,459 393,437 404,403 406,460 397,439 422,405 436,408 397,447 379,425 386,431 379,411 392,406 384,413 410,410 429,428 394,416 430,404 424,407 437,427 415,456 384,405 421,439 423,419 409,413 454,410 458,410 449,422 443,427 456,408 444,417 456,424 452,414 468,410 471,430 471,431 448,427 459,407 471,422 465,419 443,429 446,409 459,407 455,424 443,422 444,416 460,423 442,407 470,413 453,413 462,425 460,414 489,417 477,431 501,426 502,416 497,409 494,424 501,428 499,409 496,416 481,413 496,428 498,422 477,406 489,408 482,404 476,424 478,428 482,428 481,409 484,401 485,413 472,429 483,401 501,408 479,402 474,424 489,417 510,410 533,413 533,429 506,428 503,424 528,423 520,427 507,418 511,414 508,424 520,426 522,420 531,427 520,411 531,413 506,412 524,431 523,422 532,426 516,416 526,411 506,421 528,409 524,430 506,405 518,412 532,433 547,426 553,406 564,406 536,415 534,416 546,432 546,428 558,420 541,411 549,414 554,417 544,420 565,407 544,401 537,403 547,428 555,432 560,420 552,401 546,409 553,403 551,413 549,414 537,424 559,420 537,420 561,433 588,402 592,422 573,430 590,430 572,419 577,410 588,421 575,418 594,419 593,419 596,402 579,419 587,432 584,416 584,418 587,431 565,411 592,403 589,402 585,427 572,413 572,424 581,420 575,420 594,426 594,409 581,413 607,427 601,419 620,431 596,410 611,431 601,428 608,418 625,403 606,406 600,411 618,420 600,427 612,405 621,427 603,431 621,408 596,429 622,404 620,426 616,428 627,411 622,430 606,423 617,428 614,410 604,418 600,428 468,441 462,455 444,458 464,443 443,442 464,448 466,438 444,444 468,438 443,457 443,454 443,441 461,461 453,447 441,444 448,458 462,458 457,455 444,445 449,442 463,440 450,442 467,454 455,445 469,463 454,451 467,441 479,436 487,458 476,447 502,448 483,460 499,445 475,453 494,463 492,443 487,442 485,448 500,462 500,448 501,437 500,454 499,446 502,434 498,459 483,460 478,457 486,446 477,459 494,436 502,440 483,446 489,462 501,453 514,436 505,450 521,447 533,446 513,446 508,463 521,450 516,441 512,449 516,464 520,440 504,438 513,458 530,441 527,447 519,450 504,435 523,455 514,463 528,443 505,451 523,440 504,449 504,457 522,442 516,440 508,439 559,448 556,444 559,452 554,446 551,439 564,455 550,454 537,444 541,460 534,447 561,458 556,443 541,456 543,456 545,457 551,459 564,445 564,433 561,434 551,445 558,443 540,458 551,457 549,434 558,440 548,433 542,454 589,453 579,457 586,440 581,452 587,439 574,444 568,444 587,452 570,457 568,457 569,436 573,450 573,461 594,442 588,455 582,441 594,464 565,444 575,439 578,462 565,460 574,433 593,442 571,437 576,437 570,441 583,447 605,450 620,456 607,463 621,451 611,444 600,461 615,436 625,462 597,456 603,450 622,444 611,454 602,453 609,465 602,456 597,442 600,438 612,439 621,436 615,461 600,440 620,448 625,444 608,464 607,464 624,439 613,463 385,520 426,513 415,472 438,472 427,512 398,509 404,513 381,525 402,517 407,517 397,500 380,497 383,520 420,492 439,526 438,470 422,512 416,466 436,493 415,517 395,467 435,483 381,474 440,513 391,475 434,508 414,474 466,526 440,492 444,529 447,526 493,512 443,510 471,497 449,498 490,474 495,492 457,481 469,507 476,522 472,498 502,479 441,486 460,473 466,467 498,496 495,510 486,514 459,512 453,501 477,515 451,487 492,517 501,473 509,469 525,489 523,490 519,483 531,486 523,484 518,489 520,469 516,479 516,483 514,478 516,477 533,468 503,488 515,480 521,477 510,466 530,495 511,480 513,467 530,492 510,473 524,491 517,478 510,491 529,493 506,484 564,488 548,470 536,489 536,491 554,480 561,495 553,468 552,479 541,495 556,469 541,476 551,476 547,491 539,488 544,495 563,476 552,469 546,485 553,476 535,469 551,471 543,485 562,482 542,484 542,490 538,474 547,494 570,471 569,472 575,478 588,478 580,478 589,494 578,495 573,497 581,487 577,474 569,494 576,488 579,482 571,471 575,487 582,465 587,479 567,473 571,492 582,476 572,474 573,476 589,490 586,494 585,469 566,470 573,482 621,484 609,473 626,489 606,467 626,473 622,469 616,477 624,475 599,472 621,497 616,487 605,474 599,497 597,485 607,471 609,495 604,470 615,486 612,471 623,469 601,473 612,480 613,488 624,480 597,492 596,475 600,484 527,501 512,525 524,501 524,523 515,502 523,508 507,503 515,501 514,515 520,510 527,500 513,527 529,527 526,514 527,516 506,505 506,525 513,510 519,501 524,523 527,526 512,502 526,520 514,508 507,524 517,523 513,508 550,521 561,509 555,510 560,522 551,509 542,526 559,507 536,504 564,499 559,514 551,515 546,515 536,527 537,502 555,518 559,520 563,499 534,505 558,502 550,522 538,514 562,521 546,513 542,528 558,519 543,521 549,523 576,526 586,512 582,523 581,528 565,526 587,513 591,502 575,520 590,509 596,518 566,501 567,516 575,506 579,500 593,524 582,512 574,517 576,529 595,521 590,500 569,508 569,511 595,524 595,504 572,498 573,499 581,507 617,515 614,507 619,519 618,512 610,506 597,512 615,503 623,526 622,523 611,503 604,521 627,501 596,509 607,516 599,524 606,526 606,507 601,528 614,524 598,515 619,529 625,501 607,529 613,528 604,498 625,506 613,509 699,392 745,385 659,378 629,326 745,305 673,347 656,363 708,285 742,282 714,317 645,282 751,375 684,374 748,391 693,308 692,398 718,358 732,325 697,381 652,383 630,341 699,291 742,329 650,325 701,327 627,284 716,289 635,427 654,429 632,401 650,420 638,401 640,408 645,432 634,403 649,404 634,415 658,411 637,416 632,414 649,411 652,407 630,421 641,430 630,425 648,413 631,421 651,416 642,423 646,414 633,416 644,430 658,419 637,408 678,425 666,423 689,413 687,415 678,429 664,412 689,403 668,416 681,421 687,422 658,403 659,415 659,418 678,407 685,414 688,412 677,418 666,426 658,409 668,429 674,402 667,420 683,404 682,413 674,414 672,433 687,430 650,456 631,434 653,455 647,443 635,463 644,434 638,444 629,464 655,459 627,446 630,456 652,458 652,437 627,436 653,460 643,441 654,437 637,433 658,446 651,459 645,465 651,463 657,436 650,440 637,444 658,435 641,437 689,449 680,450 682,444 671,457 680,462 668,460 681,451 671,451 661,436 668,437 660,456 681,453 665,456 684,453 665,451 670,442 663,461 678,463 663,441 674,435 668,450 673,462 676,453 676,458 670,433 689,458 662,437 703,443 697,402 720,401 705,425 702,401 705,417 709,428 712,422 690,455 735,433 689,416 745,430 702,454 745,409 720,437 697,421 728,444 728,441 713,405 690,455 743,459 694,450 700,423 702,456 740,454 713,461 705,438 669,480 651,472 677,477 635,483 667,506 660,520 674,479 660,476 642,475 632,488 682,507 632,479 664,499 629,471 662,504 632,515 642,503 660,487 686,491 653,500 679,529 675,500 672,506 687,528 674,479 662,493 641,515 703,511 720,493 733,512 751,529 739,482 731,497 748,494 712,467 719,499 708,472 719,470 700,494 711,497 722,490 698,466 724,527 707,488 709,513 720,516 690,474 702,489 714,490 749,493 725,527 729,503 741,487 691,527 818,347 760,368 798,355 787,390 797,308 863,301 785,335 874,287 778,375 761,326 849,364 850,287 862,318 853,333 862,334 784,292 813,279 772,385 823,383 770,334 810,286 784,391 842,338 827,383 870,349 758,384 772,303 769,467 824,460 810,419 841,470 790,508 868,519 874,410 800,459 783,496 864,419 815,525 862,459 765,460 816,502 775,437 874,402 828,413 845,455 867,430 861,430 757,412 761,451 873,446 841,405 816,470 764,475 807,443 1083,450 906,300 889,340 1035,521 1117,495 907,476 1066,394 1124,426 905,328 908,429 1031,493 879,275 1118,340 942,495 904,476 1099,417 1028,274 1027,430 1068,405 904,330 1039,293 903,337 1074,413 965,520 1021,334 1017,492 968,384 273,783 288,576 274,612 247,713 134,660 207,683 333,650 286,604 193,661 262,587 320,658 218,595 337,761 363,593 147,692 135,750 298,616 239,705 169,623 325,704 275,556 183,595 137,694 272,767 267,765 246,662 199,649 495,592 378,575 403,610 441,591 493,627 389,533 465,606 459,594 382,587 482,607 384,545 491,599 398,620 493,641 458,633 389,589 479,573 396,641 466,530 386,601 497,609 487,543 450,553 419,549 436,535 460,612 491,628 387,770 446,778 439,668 466,680 501,727 490,721 419,743 466,717 412,712 467,687 398,720 460,666 412,783 411,757 416,669 439,770 475,664 466,738 438,743 443,681 465,674 417,767 449,724 466,721 426,729 381,703 383,786 531,550 507,557 511,555 523,549 526,538 528,547 526,556 510,543 514,532 530,551 518,547 530,532 514,551 519,545 511,537 523,540 532,558 533,538 519,533 514,532 518,560 526,541 511,559 504,557 529,532 532,550 515,543 553,546 561,558 544,530 558,550 554,532 536,558 545,545 564,536 553,531 551,553 539,554 564,556 558,560 556,547 559,555 553,551 539,540 544,557 558,539 565,531 536,540 536,560 545,542 560,547 553,544 548,560 542,546 580,534 569,546 590,543 567,559 569,558 566,550 569,538 578,554 578,543 577,546 573,560 571,534 582,541 587,531 586,541 594,539 578,540 581,538 586,543 587,539 579,547 587,550 578,532 568,534 570,535 585,540 593,537 604,535 600,551 614,537 621,551 609,549 616,544 599,541 625,541 616,532 620,557 607,541 612,538 602,534 617,546 626,560 623,560 622,530 600,561 623,549 615,543 609,534 613,538 600,557 614,558 605,548 604,556 602,550 520,572 505,577 519,588 509,567 512,587 510,582 503,564 525,577 506,577 532,574 520,575 518,563 530,580 513,571 508,592 529,574 521,579 509,563 525,567 520,562 503,567 523,581 533,583 519,562 532,577 529,563 528,577 540,575 536,580 540,584 539,584 553,584 563,571 555,574 561,588 557,581 542,591 564,592 544,588 555,589 559,576 546,587 554,579 561,563 534,576 537,589 536,590 541,566 557,583 546,581 551,592 549,579 548,575 555,565 586,591 588,579 576,565 568,579 592,589 570,586 590,577 591,568 575,578 587,576 574,589 577,575 572,577 587,573 585,577 565,592 574,579 595,568 567,568 570,589 581,563 573,578 570,571 593,576 572,581 568,578 585,564 613,571 619,581 624,581 602,567 618,588 598,575 605,577 623,580 619,586 605,581 608,577 612,583 601,588 601,572 622,593 607,592 597,592 602,563 620,567 619,562 600,573 599,577 607,585 611,593 622,567 624,590 613,578 513,614 516,606 541,615 550,630 554,599 555,626 542,609 546,620 547,631 511,613 549,595 542,629 547,615 532,624 549,598 534,610 539,610 515,609 558,617 557,641 519,629 503,654 542,601 535,625 544,612 559,634 507,646 592,603 587,621 592,596 591,602 590,616 579,623 590,626 595,612 588,615 577,610 581,601 573,621 591,616 586,610 583,615 565,608 595,600 579,596 573,620 566,619 590,622 573,624 576,608 594,611 586,597 565,602 568,620 604,624 617,600 618,604 612,596 622,619 614,616 606,598 606,617 613,598 603,609 596,595 610,598 624,598 619,619 606,611 627,613 608,625 604,624 606,607 606,615 623,616 602,625 618,610 622,597 614,619 620,615 598,609 573,645 577,640 581,645 592,635 573,632 568,653 593,630 576,655 592,657 596,636 567,634 580,626 573,641 586,631 569,636 568,630 568,651 592,627 590,653 585,635 590,628 566,656 572,655 588,627 568,647 569,647 586,633 611,633 623,646 617,646 598,654 620,642 614,642 619,643 605,642 603,626 612,654 618,633 612,645 614,641 612,648 623,642 620,648 600,634 606,637 611,635 627,649 607,648 625,631 615,657 608,654 621,636 600,652 609,637 531,705 558,717 550,669 525,658 515,680 514,689 511,700 528,674 545,679 504,712 549,714 521,675 546,667 563,700 537,661 520,685 564,667 539,663 563,706 553,706 514,673 505,693 508,670 513,717 552,676 563,668 511,682 553,729 552,757 552,744 505,729 548,755 550,735 520,736 555,767 512,769 505,752 519,771 547,766 515,725 542,767 503,776 558,745 535,764 560,764 535,772 533,724 537,749 523,748 516,742 549,779 531,777 510,755 549,772 577,663 595,678 585,669 568,676 577,687 585,682 582,682 569,690 583,677 571,661 587,681 585,666 580,683 585,687 568,683 565,678 581,660 578,679 592,660 581,683 568,687 594,669 571,663 572,671 587,688 582,689 578,679 596,671 597,662 621,662 605,675 612,659 599,680 608,661 611,670 627,659 601,660 613,689 620,662 613,669 626,681 615,666 609,675 608,676 599,671 627,671 612,682 621,682 608,681 602,678 596,664 601,669 619,659 623,661 594,721 584,717 594,704 591,691 589,711 589,695 567,707 584,712 570,708 595,698 590,721 586,704 578,705 569,692 573,696 593,702 592,708 593,719 587,704 572,708 574,717 566,711 575,704 582,722 596,702 595,721 581,708 602,715 611,715 625,710 618,708 600,705 598,696 626,702 600,704 598,710 603,697 616,720 596,713 614,706 609,690 607,707 606,722 606,717 621,716 611,706 622,694 603,690 611,705 626,720 609,706 599,714 612,695 623,691 571,738 596,727 573,748 575,752 565,730 574,749 568,744 592,753 590,724 580,729 569,730 588,741 569,731 567,752 588,737 595,754 571,730 571,742 583,739 589,739 575,744 594,724 580,727 588,736 591,744 595,741 583,753 621,733 599,752 598,752 625,743 625,742 619,741 603,725 619,737 600,740 604,731 623,742 619,748 609,737 609,734 620,751 605,745 603,722 617,747 606,754 618,733 620,749 600,751 609,731 608,739 612,732 598,742 618,745 577,782 565,758 565,772 581,762 581,754 566,785 592,757 585,771 582,781 585,785 586,784 568,781 575,784 589,785 588,767 581,779 567,772 582,777 575,774 588,767 586,783 576,771 580,781 573,764 577,775 570,786 580,778 609,755 608,773 599,786 614,769 597,762 606,775 601,770 604,772 617,771 619,774 598,775 611,779 625,766 622,762 616,754 622,769 610,770 607,762 617,774 598,763 625,763 605,773 607,785 626,758 603,760 610,763 617,783 631,531 634,549 635,557 650,576 687,592 653,571 635,569 682,586 636,540 683,574 674,534 666,531 673,580 647,530 673,594 666,553 647,582 687,553 641,593 654,558 646,576 688,560 680,555 653,581 687,578 671,583 684,591 722,554 690,563 711,529 751,549 747,530 712,580 731,573 720,535 741,578 719,566 739,561 719,561 735,577 710,579 713,573 713,587 748,579 713,552 716,568 691,564 747,534 745,566 751,576 734,578 715,537 742,586 734,543 643,610 638,609 641,625 647,625 655,599 651,606 646,612 650,603 648,606 651,610 647,626 636,594 655,611 647,620 655,606 658,606 650,620 638,607 638,605 640,621 629,625 652,612 647,603 651,622 639,610 634,602 654,614 672,614 664,594 669,612 664,611 668,602 681,605 681,618 670,595 684,611 676,616 675,623 658,625 677,607 686,622 677,594 678,607 676,620 662,621 668,602 659,597 666,611 687,599 667,606 678,605 679,598 659,612 681,598 628,647 629,656 648,631 640,628 630,637 654,655 650,646 645,642 647,642 639,653 636,639 648,657 638,640 640,633 638,651 633,641 636,644 651,630 642,632 647,648 634,633 636,636 655,654 652,638 641,632 641,656 630,638 664,653 668,641 660,648 674,652 681,650 666,634 677,627 687,649 673,637 661,644 682,630 661,648 673,651 671,657 685,636 675,645 672,652 680,652 666,642 675,645 659,652 672,631 685,644 681,650 678,655 660,637 663,646 703,595 698,605 723,623 718,594 722,610 695,597 699,619 700,623 699,641 744,614 694,656 694,635 736,625 745,603 734,652 745,648 716,627 742,618 705,596 702,603 747,614 711,656 732,622 696,617 707,655 715,656 706,597 655,660 652,677 636,685 640,690 644,688 656,670 649,681 647,659 648,682 633,661 629,675 630,685 640,690 650,672 633,672 646,686 655,668 628,679 648,679 652,684 646,684 631,688 648,661 632,679 637,688 636,674 643,688 668,687 681,676 688,686 681,675 659,665 678,662 678,669 670,684 684,682 672,675 689,688 677,660 686,659 662,679 664,682 679,663 686,690 679,689 683,673 684,688 680,661 670,681 670,663 672,662 673,661 681,665 687,661 647,711 633,710 644,710 633,705 653,710 635,701 654,692 642,707 640,690 630,717 641,699 641,692 630,717 651,696 637,693 637,707 650,706 653,722 645,691 631,712 631,719 629,692 658,703 644,709 631,701 638,714 651,712 664,705 687,696 669,710 689,691 680,705 675,717 661,709 668,714 680,703 663,715 680,708 681,721 666,712 683,699 686,700 688,709 688,718 682,702 672,709 683,703 686,697 674,695 663,699 660,708 677,703 683,708 679,693 710,659 699,713 698,696 713,701 744,711 749,720 714,721 737,676 710,692 742,664 745,701 726,684 713,684 734,686 734,714 695,659 748,670 740,684 703,659 716,696 693,659 707,715 736,674 714,685 733,676 711,690 704,686 650,738 629,733 645,730 639,740 638,728 654,724 655,725 644,740 640,742 654,732 629,729 654,741 650,735 637,744 645,752 632,733 649,751 642,747 630,743 637,744 636,728 635,745 649,752 640,724 652,730 649,738 641,723 665,746 672,751 683,739 689,722 671,739 660,750 663,741 667,734 673,731 663,744 678,725 688,726 665,731 669,738 686,725 676,742 666,734 672,751 682,738 660,734 684,736 670,743 659,743 679,726 671,750 666,739 669,740 639,765 656,777 658,765 642,766 654,766 648,760 644,763 655,766 657,773 638,772 656,777 653,773 646,759 653,775 647,764 651,771 637,786 651,776 653,777 639,785 655,776 641,770 628,783 653,773 642,780 628,767 635,774 669,774 686,768 662,755 684,769 672,755 661,754 686,756 668,770 676,761 678,775 689,757 667,758 667,761 659,780 667,778 683,780 659,773 685,775 677,768 684,771 669,770 673,760 679,781 678,755 671,779 662,771 679,771 710,723 733,733 727,756 734,729 750,770 744,734 734,747 733,767 715,783 717,752 734,732 745,744 744,732 697,760 704,750 702,769 735,766 698,725 726,727 734,757 747,775 730,775 721,741 693,767 731,763 721,751 746,746 769,652 846,645 874,586 771,593 813,579 849,562 872,557 787,636 781,623 786,582 810,561 854,650 867,550 755,586 844,600 871,656 837,563 802,538 801,626 791,553 819,645 832,544 805,559 853,583 807,642 788,587 874,569 819,741 793,739 804,765 821,751 823,748 800,677 797,700 753,757 817,720 839,666 767,750 757,770 815,782 858,710 794,714 847,717 841,785 845,724 844,721 824,712 868,785 822,730 764,731 867,689 848,691 840,694 826,758 884,745 1006,592 953,672 1061,575 893,589 1034,633 1066,716 968,681 912,686 1037,590 1042,565 1118,670 1106,701 929,718 1029,627 1049,725 1045,585 1116,763 984,768 1123,618 924,592 998,567 935,718 881,687 978,712 940,652 929,533 344,881 202,1027 221,926 164,892 347,998 333,1022 186,800 161,954 265,881 306,843 280,894 164,986 175,992 319,899 242,839 164,965 221,931 221,855 170,982 237,826 346,826 186,827 268,986 137,1024 304,1000 234,899 152,854 486,823 490,894 493,805 431,894 417,818 381,855 446,814 410,868 400,887 487,840 394,860 415,800 466,858 412,818 468,904 422,862 405,846 450,826 453,856 383,802 430,805 446,863 456,900 454,886 392,899 494,862 481,857 530,797 532,832 552,844 535,847 526,788 529,821 551,801 504,833 514,841 538,795 535,836 516,848 506,796 540,830 540,846 515,789 536,809 527,812 557,805 546,823 520,845 518,806 514,831 546,810 510,825 524,822 543,787 566,813 592,789 572,800 591,796 595,789 593,788 583,818 587,816 576,817 593,795 589,816 571,799 589,805 593,800 579,792 573,815 573,815 590,805 574,786 568,813 595,817 573,817 578,798 593,813 586,796 568,792 573,793 614,797 603,815 607,787 596,804 597,804 597,802 615,804 603,813 626,813 625,818 607,804 609,812 601,794 610,804 627,797 596,799 623,790 612,806 622,797 615,817 626,805 606,807 619,808 617,799 618,798 603,790 613,792 574,828 576,832 595,835 582,831 582,845 581,835 576,825 571,821 574,820 578,837 568,843 579,839 578,844 586,822 582,827 588,830 572,820 595,822 573,848 566,832 578,840 589,850 575,821 571,819 573,839 593,822 573,847 614,831 598,820 603,838 598,835 621,819 605,832 615,842 617,833 606,839 610,848 612,837 617,834 611,840 615,851 605,834 626,845 613,828 601,832 609,832 604,834 614,822 616,841 602,827 597,834 617,832 614,838 597,820 518,880 524,865 511,855 523,875 515,853 511,873 526,864 530,863 503,857 530,873 505,860 515,866 503,880 519,859 503,869 532,874 529,879 523,853 512,869 515,858 505,879 523,860 517,879 507,871 510,880 527,881 514,867 544,862 563,882 565,880 549,872 562,865 562,876 542,862 555,856 542,857 537,880 565,877 549,875 555,865 550,855 541,862 545,872 541,858 561,876 563,876 540,866 560,877 541,866 552,851 541,875 554,865 551,868 544,853 588,876 578,875 591,873 590,882 566,881 579,876 588,854 583,854 588,862 576,859 590,871 574,875 571,876 584,875 584,882 586,866 583,869 574,861 590,877 595,873 580,863 587,872 594,875 577,860 566,876 578,863 566,867 624,860 619,875 616,870 604,872 614,882 612,862 624,871 607,872 601,857 623,866 621,858 611,858 621,870 608,863 602,857 617,861 599,863 610,882 608,864 626,874 610,864 603,856 611,871 599,866 601,870 607,872 620,864 514,885 509,903 528,887 533,912 514,900 523,893 514,906 518,897 520,887 517,892 508,900 524,900 518,904 516,914 509,883 520,905 514,896 513,891 527,911 511,901 517,887 525,900 533,912 531,891 506,909 506,905 508,906 535,886 561,899 548,914 558,890 556,895 548,893 541,893 542,889 561,895 551,909 555,888 563,913 560,893 559,903 535,895 555,900 563,908 560,914 544,912 534,909 536,899 547,885 553,908 541,891 558,900 534,893 563,892 574,897 592,909 577,904 566,885 576,903 569,884 591,889 566,886 567,892 583,904 574,899 575,901 568,903 565,912 571,901 571,897 573,903 589,910 595,897 582,894 574,899 595,885 588,893 583,891 587,899 574,897 565,886 624,885 608,904 597,913 602,914 609,902 615,886 612,907 620,906 617,887 609,899 597,907 599,901 604,888 626,903 619,902 613,911 598,895 603,902 608,912 603,891 624,906 609,895 619,888 618,890 621,885 624,911 597,888 435,968 396,966 414,931 421,942 387,970 423,931 405,959 401,932 411,976 384,931 408,978 440,916 418,924 391,924 409,979 438,939 434,959 383,973 395,978 386,973 410,948 389,946 425,951 439,949 434,924 424,954 433,937 455,941 448,927 467,936 455,915 464,928 448,927 445,942 465,946 461,920 453,947 440,926 445,920 449,935 442,943 454,921 443,932 451,931 444,926 456,918 456,942 459,919 460,918 445,915 457,921 449,919 468,920 461,941 485,934 482,941 493,917 493,919 486,921 486,936 494,925 473,929 500,933 491,940 491,945 501,939 496,920 480,938 489,943 495,926 477,936 475,931 480,928 492,935 491,917 499,938 500,935 491,944 495,935 473,916 494,942 515,922 516,942 526,919 509,922 526,923 530,928 509,928 507,943 503,928 514,916 509,947 529,928 530,944 529,938 520,931 525,934 533,921 530,939 516,942 511,928 520,946 510,942 523,945 512,936 530,943 524,942 522,933 540,932 564,945 535,925 541,942 539,940 540,926 564,919 552,924 557,917 555,923 563,926 554,916 563,935 562,939 536,939 545,921 561,936 544,917 554,917 541,917 539,939 542,947 542,941 557,936 552,919 559,945 550,921 567,923 595,925 573,932 566,940 589,925 566,944 590,940 571,946 585,916 595,937 570,944 583,935 566,922 589,915 571,917 583,919 589,929 589,944 595,921 576,940 575,945 575,935 573,938 574,929 587,942 569,921 571,940 617,938 621,922 611,915 607,934 604,941 602,929 617,922 617,928 597,918 616,941 617,943 617,940 622,934 612,920 603,918 599,928 605,933 622,924 624,942 602,934 602,917 603,922 596,916 621,943 623,917 597,943 608,926 462,964 451,952 444,970 468,948 447,964 449,963 456,956 444,961 465,952 457,973 458,958 469,972 471,957 455,962 466,967 457,964 468,958 444,953 448,950 471,965 465,962 456,954 468,961 453,971 467,979 455,961 466,961 478,962 481,955 495,958 491,957 475,972 495,970 490,953 487,974 496,966 491,953 473,974 472,955 484,970 493,975 500,956 479,951 482,950 501,966 487,949 500,955 495,954 480,952 488,956 489,970 478,951 487,960 485,959 508,951 525,967 524,968 518,953 531,964 517,956 514,979 515,973 506,966 511,955 512,960 523,960 529,952 529,961 527,960 511,976 522,970 519,970 532,971 533,958 512,975 528,976 516,960 532,954 508,953 512,961 514,962 535,958 549,949 549,976 554,978 560,963 534,949 552,974 544,951 557,964 548,951 551,966 556,976 536,974 544,960 544,973 547,949 548,952 534,949 545,962 534,952 562,965 564,965 563,969 546,949 538,973 554,957 539,968 594,955 596,964 571,953 587,977 571,955 569,954 572,961 572,968 572,956 578,953 566,950 565,969 566,963 592,967 574,960 578,957 566,952 569,954 575,950 584,954 581,969 580,971 589,961 571,948 586,959 574,950 570,976 611,974 622,955 603,976 603,966 625,962 609,978 623,977 618,954 597,948 625,965 623,978 603,978 604,953 604,979 625,958 611,974 621,976 607,955 612,977 615,975 602,963 624,965 621,973 610,969 617,961 612,973 623,979 401,1023 412,1034 393,1009 394,1031 422,980 385,988 415,1029 399,984 414,1019 405,997 400,994 429,1004 422,1015 392,997 420,1035 435,989 394,986 390,1004 423,1038 415,989 401,988 395,1016 409,990 395,1037 417,1018 398,998 425,980 481,1041 480,982 442,1030 452,1006 481,1023 458,1023 497,1009 465,1023 495,1023 498,1029 500,995 482,993 448,1001 499,998 459,1039 501,1028 462,1032 444,980 444,1001 455,1034 468,1034 471,1003 461,982 469,1040 501,1039 446,1008 492,989 505,986 505,1003 525,1011 504,1002 527,985 505,1011 527,981 508,1000 508,993 507,982 518,997 529,979 514,982 520,985 513,1010 523,1001 521,986 524,1010 505,1006 513,986 523,1007 508,986 518,986 518,1011 503,993 509,985 521,1010 548,997 555,1007 564,990 539,1009 552,1008 538,1005 537,983 537,991 547,1000 563,993 552,992 546,988 534,987 556,1005 555,993 546,985 541,1011 552,992 550,995 543,993 547,1008 561,988 548,986 563,984 549,980 548,994 534,984 580,994 574,981 575,990 568,999 572,996 587,980 580,1000 593,1001 591,1001 572,1005 588,995 594,981 593,991 582,1005 570,995 565,980 595,986 578,983 594,996 591,988 579,987 583,1002 583,998 574,1010 565,985 586,1010 591,987 625,994 614,1000 615,1007 624,989 624,989 617,984 616,989 627,1001 608,1010 599,1003 616,980 610,983 627,982 616,997 600,1009 614,999 604,984 606,980 602,995 608,1004 600,986 612,1001 606,986 600,991 608,1005 603,990 619,986 504,1043 531,1022 511,1026 509,1037 530,1034 515,1038 532,1017 523,1017 533,1037 515,1035 512,1013 518,1014 517,1039 520,1020 509,1029 518,1040 508,1026 516,1023 508,1024 519,1018 512,1028 532,1027 513,1012 519,1022 506,1027 522,1023 525,1032 536,1013 550,1031 551,1019 544,1034 546,1028 541,1032 549,1011 557,1037 564,1042 555,1026 542,1034 547,1022 537,1031 556,1036 538,1018 553,1016 561,1041 553,1020 551,1036 544,1032 552,1041 558,1033 551,1040 552,1034 543,1015 551,1019 564,1018 593,1022 571,1030 575,1043 584,1015 574,1015 580,1028 575,1033 579,1038 586,1020 591,1012 572,1012 594,1029 591,1043 568,1040 565,1034 589,1024 592,1036 580,1020 570,1014 582,1028 571,1028 567,1021 586,1016 581,1016 592,1018 594,1041 595,1020 617,1014 626,1034 597,1016 599,1023 625,1037 606,1037 596,1029 608,1014 624,1032 627,1032 615,1015 611,1040 613,1032 610,1023 596,1018 602,1014 598,1036 627,1034 622,1018 622,1024 622,1019 605,1028 603,1020 618,1037 626,1032 607,1026 614,1030 656,805 657,802 641,787 637,802 627,801 631,795 655,816 631,805 642,788 636,804 640,805 629,806 646,793 645,816 655,806 643,811 641,809 639,804 650,805 646,799 638,808 641,801 639,796 646,815 633,807 644,807 648,799 658,798 674,807 687,808 678,798 683,791 686,802 672,809 675,818 662,788 677,794 665,819 675,796 669,794 666,791 689,810 669,790 688,815 661,814 675,818 672,800 658,805 666,815 665,815 669,812 680,816 676,798 666,794 630,828 637,845 627,835 643,824 649,825 650,824 654,829 630,823 633,823 637,850 639,831 650,821 630,847 637,824 633,842 657,831 649,833 633,829 638,827 652,822 639,842 628,850 646,840 633,825 653,850 627,845 633,821 677,822 684,846 667,823 674,843 659,841 662,831 663,821 675,828 686,848 681,835 678,829 673,836 671,833 685,850 681,846 668,821 665,835 682,842 687,844 667,820 673,829 685,848 675,843 681,835 672,849 683,837 689,823 737,822 709,795 725,842 700,844 751,799 724,818 710,794 706,847 742,848 720,819 693,814 725,850 693,829 692,849 702,831 729,800 718,814 700,812 693,832 750,821 714,819 698,834 732,793 713,794 733,787 743,791 741,799 643,874 656,879 632,874 640,856 641,881 628,873 644,879 642,859 653,854 648,860 629,856 653,856 656,855 656,852 648,868 646,880 634,883 645,877 635,883 649,866 634,879 644,883 655,875 649,856 653,874 630,853 630,858 682,875 680,863 687,856 665,865 666,874 684,875 668,869 668,868 675,856 684,877 682,854 665,875 683,871 687,864 665,866 668,863 682,861 680,870 659,867 685,872 685,871 689,852 671,857 682,860 679,872 659,870 668,859 647,903 634,906 629,885 655,913 656,915 650,901 643,900 656,914 641,889 644,896 652,912 646,885 644,887 644,909 648,898 632,913 654,899 629,905 639,896 639,892 631,904 643,897 650,899 632,891 644,904 647,907 638,907 676,891 662,903 684,913 684,909 676,891 667,911 667,898 675,883 662,889 683,908 661,888 689,888 683,902 685,907 661,908 680,884 687,892 673,900 675,901 660,910 674,886 674,889 672,906 682,888 667,914 678,889 677,891 694,893 696,860 731,913 694,899 698,854 690,852 735,909 690,860 692,877 709,863 740,857 729,860 730,859 702,914 706,880 730,915 723,858 731,895 726,875 740,855 723,886 746,901 704,875 726,875 693,915 718,860 699,852 684,924 662,976 675,953 645,958 677,928 641,941 664,972 664,932 672,925 634,916 663,952 656,951 639,928 663,941 658,974 656,963 631,947 630,928 639,940 637,975 646,935 631,939 676,950 683,955 667,942 679,944 636,929 739,919 700,955 732,945 730,942 726,917 715,978 725,937 728,978 718,942 740,970 703,958 708,938 739,938 746,946 743,923 714,917 743,972 719,945 750,940 708,924 746,967 722,962 741,958 696,957 744,946 716,956 701,929 669,1043 634,1022 658,982 637,999 670,988 650,1019 674,1043 679,992 662,1018 661,1018 651,995 669,1035 669,1022 687,996 663,1032 668,979 659,1032 640,1005 688,1008 661,1018 680,1009 683,1025 652,1019 646,983 657,982 646,1033 687,992 700,1002 717,988 739,989 723,997 730,987 720,1034 690,992 694,1033 731,995 745,990 720,1026 727,983 692,991 748,1037 708,982 729,992 745,1038 738,1029 738,1033 713,1026 690,1024 717,1042 738,1008 733,1017 728,980 703,996 733,1038 830,884 831,805 783,861 845,840 838,829 791,808 803,861 765,906 753,880 795,907 787,790 837,835 853,872 806,871 836,829 776,870 822,793 772,842 763,854 801,824 845,881 760,863 875,864 874,816 779,828 781,807 783,851 853,1014 756,1014 831,949 752,1025 768,948 789,1017 869,1033 857,1024 810,922 781,933 766,932 791,921 788,1025 782,980 857,917 842,985 755,1029 851,928 871,989 831,942 755,1006 840,938 756,989 790,959 860,988 766,1005 841,988 1113,909 1038,801 951,864 983,918 905,964 890,851 1022,793 958,994 1058,883 918,979 1092,807 980,927 1049,839 1081,943 1075,1030 1046,959 950,857 969,995 1024,858 1101,919 1120,954 1059,875 1123,910 1044,890 1006,832 968,893 1061,827"/>
<path d="M129.0 686.7H1125.0" stroke="#000" stroke-width="4.8" fill="none"/>
<path d="M129.0 686.7H1125.0" stroke="#fff" stroke-width="4.8" stroke-dasharray="13.6 13.17" stroke-dashoffset="-13.3" fill="none"/>
</g>
<g stroke="#000" fill="none">
<path d="M129.0 15.3v13.5 M129.0 1043.5v-13.5 M162.2 15.3v7.0 M162.2 1043.5v-7.0 M195.4 15.3v7.0 M195.4 1043.5v-7.0 M228.6 15.3v7.0 M228.6 1043.5v-7.0 M261.8 15.3v7.0 M261.8 1043.5v-7.0 M295.0 15.3v13.5 M295.0 1043.5v-13.5 M328.2 15.3v7.0 M328.2 1043.5v-7.0 M361.4 15.3v7.0 M361.4 1043.5v-7.0 M394.6 15.3v7.0 M394.6 1043.5v-7.0 M427.8 15.3v7.0 M427.8 1043.5v-7.0 M461.0 15.3v13.5 M461.0 1043.5v-13.5 M494.2 15.3v7.0 M494.2 1043.5v-7.0 M527.4 15.3v7.0 M527.4 1043.5v-7.0 M560.6 15.3v7.0 M560.6 1043.5v-7.0 M593.8 15.3v7.0 M593.8 1043.5v-7.0 M627.0 15.3v13.5 M627.0 1043.5v-13.5 M660.2 15.3v7.0 M660.2 1043.5v-7.0 M693.4 15.3v7.0 M693.4 1043.5v-7.0 M726.6 15.3v7.0 M726.6 1043.5v-7.0 M759.8 15.3v7.0 M759.8 1043.5v-7.0 M793.0 15.3v13.5 M793.0 1043.5v-13.5 M826.2 15.3v7.0 M826.2 1043.5v-7.0 M859.4 15.3v7.0 M859.4 1043.5v-7.0 M892.6 15.3v7.0 M892.6 1043.5v-7.0 M925.8 15.3v7.0 M925.8 1043.5v-7.0 M959.0 15.3v13.5 M959.0 1043.5v-13.5 M992.2 15.3v7.0 M992.2 1043.5v-7.0 M1025.4 15.3v7.0 M1025.4 1043.5v-7.0 M1058.6 15.3v7.0 M1058.6 1043.5v-7.0 M1091.8 15.3v7.0 M1091.8 1043.5v-7.0 M1125.0 15.3v13.5 M1125.0 1043.5v-13.5 M129.0 1043.5h7.0 M1125.0 1043.5h-7.0 M129.0 1002.4h7.0 M1125.0 1002.4h-7.0 M129.0 961.2h7.0 M1125.0 961.2h-7.0 M129.0 920.1h13.5 M1125.0 920.1h-13.5 M129.0 879.0h7.0 M1125.0 879.0h-7.0 M129.0 837.9h7.0 M1125.0 837.9h-7.0 M129.0 796.7h7.0 M1125.0 796.7h-7.0 M129.0 755.6h7.0 M1125.0 755.6h-7.0 M129.0 714.5h13.5 M1125.0 714.5h-13.5 M129.0 673.3h7.0 M1125.0 673.3h-7.0 M129.0 632.2h7.0 M1125.0 632.2h-7.0 M129.0 591.1h7.0 M1125.0 591.1h-7.0 M129.0 550.0h7.0 M1125.0 550.0h-7.0 M129.0 508.8h13.5 M1125.0 508.8h-13.5 M129.0 467.7h7.0 M1125.0 467.7h-7.0 M129.0 426.6h7.0 M1125.0 426.6h-7.0 M129.0 385.5h7.0 M1125.0 385.5h-7.0 M129.0 344.3h7.0 M1125.0 344.3h-7.0 M129.0 303.2h13.5 M1125.0 303.2h-13.5 M129.0 262.1h7.0 M1125.0 262.1h-7.0 M129.0 220.9h7.0 M1125.0 220.9h-7.0 M129.0 179.8h7.0 M1125.0 179.8h-7.0 M129.0 138.7h7.0 M1125.0 138.7h-7.0 M129.0 97.6h13.5 M1125.0 97.6h-13.5 M129.0 56.4h7.0 M1125.0 56.4h-7.0 M129.0 15.3h7.0 M1125.0 15.3h-7.0" stroke-width="2.2"/>
<rect x="129.0" y="15.3" width="996.0" height="1028.2" stroke-width="4.5"/>
</g>
<polygon clip-path="url(#ax)" points="811.9,-14.7 802.1,30.6 792.1,76.0 782.1,121.3 772.0,166.7 761.7,212.0 751.4,257.4 741.0,302.7 730.5,348.0 719.8,393.4 709.1,438.7 698.3,484.1 687.3,529.4 676.3,574.7 665.1,620.1 653.8,665.4 642.4,710.8 630.9,756.1 619.3,801.5 607.5,846.8 595.6,892.1 583.6,937.5 571.5,982.8 559.3,1028.2 546.9,1073.5 1175.0,1073.5 1175.0,-14.7" fill="#fff" fill-opacity="0.5"/>
<g clip-path="url(#ax)" fill="none">
<path d="M811.91 -14.70L802.07 30.64L792.13 75.98L782.09 121.33L771.96 166.67L761.74 212.01L751.41 257.35L740.99 302.69L730.46 348.03L719.83 393.38L709.10 438.72L698.26 484.06L687.31 529.40L676.26 574.74L665.09 620.08L653.81 665.42L642.41 710.77L630.90 756.11L619.27 801.45L607.52 846.79L595.64 892.13L583.64 937.48L571.52 982.82L559.26 1028.16L546.87 1073.50" stroke="#303030" stroke-width="11"/>
<path d="M811.91 -14.70L802.07 30.64L792.13 75.98L782.09 121.33L771.96 166.67L761.74 212.01L751.41 257.35L740.99 302.69L730.46 348.03L719.83 393.38L709.10 438.72L698.26 484.06L687.31 529.40L676.26 574.74L665.09 620.08L653.81 665.42L642.41 710.77L630.90 756.11L619.27 801.45L607.52 846.79L595.64 892.13L583.64 937.48L571.52 982.82L559.26 1028.16L546.87 1073.50" stroke="#2a4dbc" stroke-width="7.5"/>
<path d="M811.91 -14.70L802.07 30.64L792.13 75.98L782.09 121.33L771.96 166.67L761.74 212.01L751.41 257.35L740.99 302.69L730.46 348.03L719.83 393.38L709.10 438.72L698.26 484.06L687.31 529.40L676.26 574.74L665.09 620.08L653.81 665.42L642.41 710.77L630.90 756.11L619.27 801.45L607.52 846.79L595.64 892.13L583.64 937.48L571.52 982.82L559.26 1028.16L546.87 1073.50" stroke="#c8d4ee" stroke-width="4.3" stroke-dasharray="13.5 13.3" stroke-dashoffset="-18"/>
</g>
<g stroke="#000" stroke-width="8.0" fill="none"><path d="M295.0 529.4H892.6 M593.8 323.8V735.0"/></g>
<g fill="#000">
<rect x="290.9" y="511.7" width="8.3" height="35.4"/>
<rect x="888.5" y="511.7" width="8.3" height="35.4"/>
<rect x="576.1" y="319.6" width="35.4" height="8.3"/>
<rect x="576.1" y="730.9" width="35.4" height="8.3"/>
<circle cx="593.8" cy="529.4" r="15"/>
</g>
<g stroke="#62dca6" stroke-width="4.7" fill="none"><path d="M295.0 529.4H892.6 M593.8 323.8V735.0"/></g>
<g fill="#62dca6">
<rect x="292.8" y="515.7" width="4.4" height="27.4"/>
<rect x="890.4" y="515.7" width="4.4" height="27.4"/>
<rect x="580.1" y="321.7" width="27.4" height="4.2"/>
<rect x="580.1" y="732.9" width="27.4" height="4.2"/>
<circle cx="593.8" cy="529.4" r="10.3"/>
</g>
<rect x="1187.3" y="15.3" width="51.4" height="1028.2" fill="url(#cb)"/>
<path d="M1238.7 1043.5h-13.5 M1238.7 1022.9h-6.7 M1238.7 1002.4h-6.7 M1238.7 981.8h-6.7 M1238.7 961.2h-6.7 M1238.7 940.7h-13.5 M1238.7 920.1h-6.7 M1238.7 899.6h-6.7 M1238.7 879.0h-6.7 M1238.7 858.4h-6.7 M1238.7 837.9h-13.5 M1238.7 817.3h-6.7 M1238.7 796.7h-6.7 M1238.7 776.2h-6.7 M1238.7 755.6h-6.7 M1238.7 735.0h-13.5 M1238.7 714.5h-6.7 M1238.7 693.9h-6.7 M1238.7 673.3h-6.7 M1238.7 652.8h-6.7 M1238.7 632.2h-13.5 M1238.7 611.7h-6.7 M1238.7 591.1h-6.7 M1238.7 570.5h-6.7 M1238.7 550.0h-6.7 M1238.7 529.4h-13.5 M1238.7 508.8h-6.7 M1238.7 488.3h-6.7 M1238.7 467.7h-6.7 M1238.7 447.1h-6.7 M1238.7 426.6h-13.5 M1238.7 406.0h-6.7 M1238.7 385.5h-6.7 M1238.7 364.9h-6.7 M1238.7 344.3h-6.7 M1238.7 323.8h-13.5 M1238.7 303.2h-6.7 M1238.7 282.6h-6.7 M1238.7 262.1h-6.7 M1238.7 241.5h-6.7 M1238.7 220.9h-13.5 M1238.7 200.4h-6.7 M1238.7 179.8h-6.7 M1238.7 159.2h-6.7 M1238.7 138.7h-6.7 M1238.7 118.1h-13.5 M1238.7 97.6h-6.7 M1238.7 77.0h-6.7 M1238.7 56.4h-6.7 M1238.7 35.9h-6.7 M1238.7 15.3h-13.5" stroke="#000" stroke-width="2.2" fill="none"/>
<rect x="1187.3" y="15.3" width="51.4" height="1028.2" fill="none" stroke="#000" stroke-width="4.5"/>
<g font-size="33" letter-spacing="-0.4">
<text x="128.0" y="1075.5" text-anchor="middle">0.00</text>
<text x="294.0" y="1075.5" text-anchor="middle">0.05</text>
<text x="460.0" y="1075.5" text-anchor="middle">0.10</text>
<text x="626.0" y="1075.5" text-anchor="middle">0.15</text>
<text x="792.0" y="1075.5" text-anchor="middle">0.20</text>
<text x="958.0" y="1075.5" text-anchor="middle">0.25</text>
<text x="1124.0" y="1075.5" text-anchor="middle">0.30</text>
<text x="119.0" y="929.4" text-anchor="end">350</text>
<text x="119.0" y="723.8" text-anchor="end">360</text>
<text x="119.0" y="518.1" text-anchor="end">370</text>
<text x="119.0" y="312.5" text-anchor="end">380</text>
<text x="119.0" y="106.9" text-anchor="end">390</text>
<text x="1246.5" y="1052.4">0.0</text>
<text x="1246.5" y="949.6">0.1</text>
<text x="1246.5" y="846.8">0.2</text>
<text x="1246.5" y="743.9">0.3</text>
<text x="1246.5" y="641.1">0.4</text>
<text x="1246.5" y="538.3">0.5</text>
<text x="1246.5" y="435.5">0.6</text>
<text x="1246.5" y="332.7">0.7</text>
<text x="1246.5" y="229.8">0.8</text>
<text x="1246.5" y="127.0">0.9</text>
<text x="1246.5" y="24.2">1.0</text>
</g>
<text x="365.6" y="1127.8" font-size="44.5">Planet e eccentricity, <tspan class="m" font-size="44">e</tspan><tspan class="m" font-size="31" dy="7">e</tspan></text>
<text transform="translate(33.3 811.7) rotate(-90)" font-size="44.5">Planet e period, <tspan class="m" font-size="44">P</tspan><tspan class="m" font-size="31" dy="7" dx="2">e</tspan><tspan dy="-7" dx="2"> (days)</tspan></text>
<text x="194.5" y="755.3" font-size="44.5" style="fill:#fff">2:3 MMR with f</text>
<text transform="translate(798.5 335.5) rotate(-80)" class="m" font-size="58" letter-spacing="1">P<tspan font-size="40" dy="10" dx="-3">e,</tspan><tspan font-size="40" dx="7">crit</tspan></text>
<text transform="translate(1339.8 569) rotate(-90)" class="m" font-size="44.4" letter-spacing="2.2">f<tspan font-size="31" dy="8.8" dx="3">stab</tspan></text>
</svg></body></html>
